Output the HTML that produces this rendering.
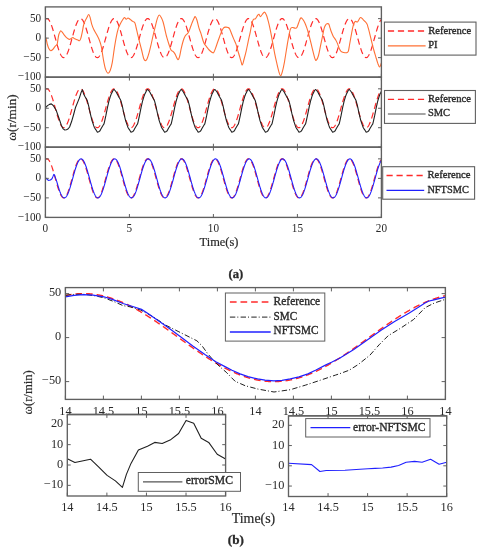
<!DOCTYPE html>
<html><head><meta charset="utf-8"><style>
html,body{margin:0;padding:0;background:#fff;}
body{width:478px;height:550px;overflow:hidden;}
svg{display:block;}
</style></head><body>
<svg width="478" height="550" viewBox="0 0 478 550" font-family="'Liberation Serif', 'DejaVu Serif', serif" fill="#2a2a2a">
<rect width="478" height="550" fill="#fff"/>
<clipPath id="c1"><rect x="45.4" y="6.9" width="336" height="70.25"/></clipPath>
<polyline clip-path="url(#c1)" points="45.4,19.38 45.74,19.08 46.07,18.85 46.41,18.69 46.74,18.62 47.08,18.62 47.42,18.69 47.75,18.85 48.09,19.08 48.42,19.38 48.76,19.76 49.1,20.21 49.43,20.74 49.77,21.33 50.1,21.98 50.44,22.7 50.78,23.48 51.11,24.32 51.45,25.22 51.78,26.16 52.12,27.15 52.46,28.19 52.79,29.26 53.13,30.37 53.46,31.51 53.8,32.68 54.14,33.87 54.47,35.07 54.81,36.29 55.14,37.51 55.48,38.74 55.82,39.96 56.15,41.17 56.49,42.38 56.82,43.57 57.16,44.73 57.5,45.87 57.83,46.98 58.17,48.06 58.5,49.09 58.84,50.08 59.18,51.03 59.51,51.92 59.85,52.76 60.18,53.54 60.52,54.26 60.86,54.92 61.19,55.51 61.53,56.03 61.86,56.48 62.2,56.86 62.54,57.17 62.87,57.4 63.21,57.55 63.54,57.63 63.88,57.63 64.22,57.55 64.55,57.4 64.89,57.17 65.22,56.86 65.56,56.48 65.9,56.03 66.23,55.51 66.57,54.92 66.9,54.26 67.24,53.54 67.58,52.76 67.91,51.92 68.25,51.03 68.58,50.08 68.92,49.09 69.26,48.06 69.59,46.98 69.93,45.87 70.26,44.73 70.6,43.57 70.94,42.38 71.27,41.17 71.61,39.96 71.94,38.74 72.28,37.51 72.62,36.29 72.95,35.07 73.29,33.87 73.62,32.68 73.96,31.51 74.3,30.37 74.63,29.26 74.97,28.19 75.3,27.15 75.64,26.16 75.98,25.22 76.31,24.32 76.65,23.48 76.98,22.7 77.32,21.98 77.66,21.33 77.99,20.74 78.33,20.21 78.66,19.76 79,19.38 79.34,19.08 79.67,18.85 80.01,18.69 80.34,18.62 80.68,18.62 81.02,18.69 81.35,18.85 81.69,19.08 82.02,19.38 82.36,19.76 82.7,20.21 83.03,20.74 83.37,21.33 83.7,21.98 84.04,22.7 84.38,23.48 84.71,24.32 85.05,25.22 85.38,26.16 85.72,27.15 86.06,28.19 86.39,29.26 86.73,30.37 87.06,31.51 87.4,32.68 87.74,33.87 88.07,35.07 88.41,36.29 88.74,37.51 89.08,38.74 89.42,39.96 89.75,41.17 90.09,42.38 90.42,43.57 90.76,44.73 91.1,45.87 91.43,46.98 91.77,48.06 92.1,49.09 92.44,50.08 92.78,51.03 93.11,51.92 93.45,52.76 93.78,53.54 94.12,54.26 94.46,54.92 94.79,55.51 95.13,56.03 95.46,56.48 95.8,56.86 96.14,57.17 96.47,57.4 96.81,57.55 97.14,57.63 97.48,57.63 97.82,57.55 98.15,57.4 98.49,57.17 98.82,56.86 99.16,56.48 99.5,56.03 99.83,55.51 100.17,54.92 100.5,54.26 100.84,53.54 101.18,52.76 101.51,51.92 101.85,51.03 102.18,50.08 102.52,49.09 102.86,48.06 103.19,46.98 103.53,45.87 103.86,44.73 104.2,43.57 104.54,42.38 104.87,41.17 105.21,39.96 105.54,38.74 105.88,37.51 106.22,36.29 106.55,35.07 106.89,33.87 107.22,32.68 107.56,31.51 107.9,30.37 108.23,29.26 108.57,28.19 108.9,27.15 109.24,26.16 109.58,25.22 109.91,24.32 110.25,23.48 110.58,22.7 110.92,21.98 111.26,21.33 111.59,20.74 111.93,20.21 112.26,19.76 112.6,19.38 112.94,19.08 113.27,18.85 113.61,18.69 113.94,18.62 114.28,18.62 114.62,18.69 114.95,18.85 115.29,19.08 115.62,19.38 115.96,19.76 116.3,20.21 116.63,20.74 116.97,21.33 117.3,21.98 117.64,22.7 117.98,23.48 118.31,24.32 118.65,25.22 118.98,26.16 119.32,27.15 119.66,28.19 119.99,29.26 120.33,30.37 120.66,31.51 121,32.68 121.34,33.87 121.67,35.07 122.01,36.29 122.34,37.51 122.68,38.74 123.02,39.96 123.35,41.17 123.69,42.38 124.02,43.57 124.36,44.73 124.7,45.87 125.03,46.98 125.37,48.06 125.7,49.09 126.04,50.08 126.38,51.03 126.71,51.92 127.05,52.76 127.38,53.54 127.72,54.26 128.06,54.92 128.39,55.51 128.73,56.03 129.06,56.48 129.4,56.86 129.74,57.17 130.07,57.4 130.41,57.55 130.74,57.63 131.08,57.63 131.42,57.55 131.75,57.4 132.09,57.17 132.42,56.86 132.76,56.48 133.1,56.03 133.43,55.51 133.77,54.92 134.1,54.26 134.44,53.54 134.78,52.76 135.11,51.92 135.45,51.03 135.78,50.08 136.12,49.09 136.46,48.06 136.79,46.98 137.13,45.87 137.46,44.73 137.8,43.57 138.14,42.38 138.47,41.17 138.81,39.96 139.14,38.74 139.48,37.51 139.82,36.29 140.15,35.07 140.49,33.87 140.82,32.68 141.16,31.51 141.5,30.37 141.83,29.26 142.17,28.19 142.5,27.15 142.84,26.16 143.18,25.22 143.51,24.32 143.85,23.48 144.18,22.7 144.52,21.98 144.86,21.33 145.19,20.74 145.53,20.21 145.86,19.76 146.2,19.38 146.54,19.08 146.87,18.85 147.21,18.69 147.54,18.62 147.88,18.62 148.22,18.69 148.55,18.85 148.89,19.08 149.22,19.38 149.56,19.76 149.9,20.21 150.23,20.74 150.57,21.33 150.9,21.98 151.24,22.7 151.58,23.48 151.91,24.32 152.25,25.22 152.58,26.16 152.92,27.15 153.26,28.19 153.59,29.26 153.93,30.37 154.26,31.51 154.6,32.68 154.94,33.87 155.27,35.07 155.61,36.29 155.94,37.51 156.28,38.74 156.62,39.96 156.95,41.17 157.29,42.38 157.62,43.57 157.96,44.73 158.3,45.87 158.63,46.98 158.97,48.06 159.3,49.09 159.64,50.08 159.98,51.03 160.31,51.92 160.65,52.76 160.98,53.54 161.32,54.26 161.66,54.92 161.99,55.51 162.33,56.03 162.66,56.48 163,56.86 163.34,57.17 163.67,57.4 164.01,57.55 164.34,57.63 164.68,57.63 165.02,57.55 165.35,57.4 165.69,57.17 166.02,56.86 166.36,56.48 166.7,56.03 167.03,55.51 167.37,54.92 167.7,54.26 168.04,53.54 168.38,52.76 168.71,51.92 169.05,51.03 169.38,50.08 169.72,49.09 170.06,48.06 170.39,46.98 170.73,45.87 171.06,44.73 171.4,43.57 171.74,42.38 172.07,41.17 172.41,39.96 172.74,38.74 173.08,37.51 173.42,36.29 173.75,35.07 174.09,33.87 174.42,32.68 174.76,31.51 175.1,30.37 175.43,29.26 175.77,28.19 176.1,27.15 176.44,26.16 176.78,25.22 177.11,24.32 177.45,23.48 177.78,22.7 178.12,21.98 178.46,21.33 178.79,20.74 179.13,20.21 179.46,19.76 179.8,19.38 180.14,19.08 180.47,18.85 180.81,18.69 181.14,18.62 181.48,18.62 181.82,18.69 182.15,18.85 182.49,19.08 182.82,19.38 183.16,19.76 183.5,20.21 183.83,20.74 184.17,21.33 184.5,21.98 184.84,22.7 185.18,23.48 185.51,24.32 185.85,25.22 186.18,26.16 186.52,27.15 186.86,28.19 187.19,29.26 187.53,30.37 187.86,31.51 188.2,32.68 188.54,33.87 188.87,35.07 189.21,36.29 189.54,37.51 189.88,38.74 190.22,39.96 190.55,41.17 190.89,42.38 191.22,43.57 191.56,44.73 191.9,45.87 192.23,46.98 192.57,48.06 192.9,49.09 193.24,50.08 193.58,51.03 193.91,51.92 194.25,52.76 194.58,53.54 194.92,54.26 195.26,54.92 195.59,55.51 195.93,56.03 196.26,56.48 196.6,56.86 196.94,57.17 197.27,57.4 197.61,57.55 197.94,57.63 198.28,57.63 198.62,57.55 198.95,57.4 199.29,57.17 199.62,56.86 199.96,56.48 200.3,56.03 200.63,55.51 200.97,54.92 201.3,54.26 201.64,53.54 201.98,52.76 202.31,51.92 202.65,51.03 202.98,50.08 203.32,49.09 203.66,48.06 203.99,46.98 204.33,45.87 204.66,44.73 205,43.57 205.34,42.38 205.67,41.17 206.01,39.96 206.34,38.74 206.68,37.51 207.02,36.29 207.35,35.07 207.69,33.87 208.02,32.68 208.36,31.51 208.7,30.37 209.03,29.26 209.37,28.19 209.7,27.15 210.04,26.16 210.38,25.22 210.71,24.32 211.05,23.48 211.38,22.7 211.72,21.98 212.06,21.33 212.39,20.74 212.73,20.21 213.06,19.76 213.4,19.38 213.74,19.08 214.07,18.85 214.41,18.69 214.74,18.62 215.08,18.62 215.42,18.69 215.75,18.85 216.09,19.08 216.42,19.38 216.76,19.76 217.1,20.21 217.43,20.74 217.77,21.33 218.1,21.98 218.44,22.7 218.78,23.48 219.11,24.32 219.45,25.22 219.78,26.16 220.12,27.15 220.46,28.19 220.79,29.26 221.13,30.37 221.46,31.51 221.8,32.68 222.14,33.87 222.47,35.07 222.81,36.29 223.14,37.51 223.48,38.74 223.82,39.96 224.15,41.17 224.49,42.38 224.82,43.57 225.16,44.73 225.5,45.87 225.83,46.98 226.17,48.06 226.5,49.09 226.84,50.08 227.18,51.03 227.51,51.92 227.85,52.76 228.18,53.54 228.52,54.26 228.86,54.92 229.19,55.51 229.53,56.03 229.86,56.48 230.2,56.86 230.54,57.17 230.87,57.4 231.21,57.55 231.54,57.63 231.88,57.63 232.22,57.55 232.55,57.4 232.89,57.17 233.22,56.86 233.56,56.48 233.9,56.03 234.23,55.51 234.57,54.92 234.9,54.26 235.24,53.54 235.58,52.76 235.91,51.92 236.25,51.03 236.58,50.08 236.92,49.09 237.26,48.06 237.59,46.98 237.93,45.87 238.26,44.73 238.6,43.57 238.94,42.38 239.27,41.17 239.61,39.96 239.94,38.74 240.28,37.51 240.62,36.29 240.95,35.07 241.29,33.87 241.62,32.68 241.96,31.51 242.3,30.37 242.63,29.26 242.97,28.19 243.3,27.15 243.64,26.16 243.98,25.22 244.31,24.32 244.65,23.48 244.98,22.7 245.32,21.98 245.66,21.33 245.99,20.74 246.33,20.21 246.66,19.76 247,19.38 247.34,19.08 247.67,18.85 248.01,18.69 248.34,18.62 248.68,18.62 249.02,18.69 249.35,18.85 249.69,19.08 250.02,19.38 250.36,19.76 250.7,20.21 251.03,20.74 251.37,21.33 251.7,21.98 252.04,22.7 252.38,23.48 252.71,24.32 253.05,25.22 253.38,26.16 253.72,27.15 254.06,28.19 254.39,29.26 254.73,30.37 255.06,31.51 255.4,32.68 255.74,33.87 256.07,35.07 256.41,36.29 256.74,37.51 257.08,38.74 257.42,39.96 257.75,41.17 258.09,42.38 258.42,43.57 258.76,44.73 259.1,45.87 259.43,46.98 259.77,48.06 260.1,49.09 260.44,50.08 260.78,51.03 261.11,51.92 261.45,52.76 261.78,53.54 262.12,54.26 262.46,54.92 262.79,55.51 263.13,56.03 263.46,56.48 263.8,56.86 264.14,57.17 264.47,57.4 264.81,57.55 265.14,57.63 265.48,57.63 265.82,57.55 266.15,57.4 266.49,57.17 266.82,56.86 267.16,56.48 267.5,56.03 267.83,55.51 268.17,54.92 268.5,54.26 268.84,53.54 269.18,52.76 269.51,51.92 269.85,51.03 270.18,50.08 270.52,49.09 270.86,48.06 271.19,46.98 271.53,45.87 271.86,44.73 272.2,43.57 272.54,42.38 272.87,41.17 273.21,39.96 273.54,38.74 273.88,37.51 274.22,36.29 274.55,35.07 274.89,33.87 275.22,32.68 275.56,31.51 275.9,30.37 276.23,29.26 276.57,28.19 276.9,27.15 277.24,26.16 277.58,25.22 277.91,24.32 278.25,23.48 278.58,22.7 278.92,21.98 279.26,21.33 279.59,20.74 279.93,20.21 280.26,19.76 280.6,19.38 280.94,19.08 281.27,18.85 281.61,18.69 281.94,18.62 282.28,18.62 282.62,18.69 282.95,18.85 283.29,19.08 283.62,19.38 283.96,19.76 284.3,20.21 284.63,20.74 284.97,21.33 285.3,21.98 285.64,22.7 285.98,23.48 286.31,24.32 286.65,25.22 286.98,26.16 287.32,27.15 287.66,28.19 287.99,29.26 288.33,30.37 288.66,31.51 289,32.68 289.34,33.87 289.67,35.07 290.01,36.29 290.34,37.51 290.68,38.74 291.02,39.96 291.35,41.17 291.69,42.38 292.02,43.57 292.36,44.73 292.7,45.87 293.03,46.98 293.37,48.06 293.7,49.09 294.04,50.08 294.38,51.03 294.71,51.92 295.05,52.76 295.38,53.54 295.72,54.26 296.06,54.92 296.39,55.51 296.73,56.03 297.06,56.48 297.4,56.86 297.74,57.17 298.07,57.4 298.41,57.55 298.74,57.63 299.08,57.63 299.42,57.55 299.75,57.4 300.09,57.17 300.42,56.86 300.76,56.48 301.1,56.03 301.43,55.51 301.77,54.92 302.1,54.26 302.44,53.54 302.78,52.76 303.11,51.92 303.45,51.03 303.78,50.08 304.12,49.09 304.46,48.06 304.79,46.98 305.13,45.87 305.46,44.73 305.8,43.57 306.14,42.38 306.47,41.17 306.81,39.96 307.14,38.74 307.48,37.51 307.82,36.29 308.15,35.07 308.49,33.87 308.82,32.68 309.16,31.51 309.5,30.37 309.83,29.26 310.17,28.19 310.5,27.15 310.84,26.16 311.18,25.22 311.51,24.32 311.85,23.48 312.18,22.7 312.52,21.98 312.86,21.33 313.19,20.74 313.53,20.21 313.86,19.76 314.2,19.38 314.54,19.08 314.87,18.85 315.21,18.69 315.54,18.62 315.88,18.62 316.22,18.69 316.55,18.85 316.89,19.08 317.22,19.38 317.56,19.76 317.9,20.21 318.23,20.74 318.57,21.33 318.9,21.98 319.24,22.7 319.58,23.48 319.91,24.32 320.25,25.22 320.58,26.16 320.92,27.15 321.26,28.19 321.59,29.26 321.93,30.37 322.26,31.51 322.6,32.68 322.94,33.87 323.27,35.07 323.61,36.29 323.94,37.51 324.28,38.74 324.62,39.96 324.95,41.17 325.29,42.38 325.62,43.57 325.96,44.73 326.3,45.87 326.63,46.98 326.97,48.06 327.3,49.09 327.64,50.08 327.98,51.03 328.31,51.92 328.65,52.76 328.98,53.54 329.32,54.26 329.66,54.92 329.99,55.51 330.33,56.03 330.66,56.48 331,56.86 331.34,57.17 331.67,57.4 332.01,57.55 332.34,57.63 332.68,57.63 333.02,57.55 333.35,57.4 333.69,57.17 334.02,56.86 334.36,56.48 334.7,56.03 335.03,55.51 335.37,54.92 335.7,54.26 336.04,53.54 336.38,52.76 336.71,51.92 337.05,51.03 337.38,50.08 337.72,49.09 338.06,48.06 338.39,46.98 338.73,45.87 339.06,44.73 339.4,43.57 339.74,42.38 340.07,41.17 340.41,39.96 340.74,38.74 341.08,37.51 341.42,36.29 341.75,35.07 342.09,33.87 342.42,32.68 342.76,31.51 343.1,30.37 343.43,29.26 343.77,28.19 344.1,27.15 344.44,26.16 344.78,25.22 345.11,24.32 345.45,23.48 345.78,22.7 346.12,21.98 346.46,21.33 346.79,20.74 347.13,20.21 347.46,19.76 347.8,19.38 348.14,19.08 348.47,18.85 348.81,18.69 349.14,18.62 349.48,18.62 349.82,18.69 350.15,18.85 350.49,19.08 350.82,19.38 351.16,19.76 351.5,20.21 351.83,20.74 352.17,21.33 352.5,21.98 352.84,22.7 353.18,23.48 353.51,24.32 353.85,25.22 354.18,26.16 354.52,27.15 354.86,28.19 355.19,29.26 355.53,30.37 355.86,31.51 356.2,32.68 356.54,33.87 356.87,35.07 357.21,36.29 357.54,37.51 357.88,38.74 358.22,39.96 358.55,41.17 358.89,42.38 359.22,43.57 359.56,44.73 359.9,45.87 360.23,46.98 360.57,48.06 360.9,49.09 361.24,50.08 361.58,51.03 361.91,51.92 362.25,52.76 362.58,53.54 362.92,54.26 363.26,54.92 363.59,55.51 363.93,56.03 364.26,56.48 364.6,56.86 364.94,57.17 365.27,57.4 365.61,57.55 365.94,57.63 366.28,57.63 366.62,57.55 366.95,57.4 367.29,57.17 367.62,56.86 367.96,56.48 368.3,56.03 368.63,55.51 368.97,54.92 369.3,54.26 369.64,53.54 369.98,52.76 370.31,51.92 370.65,51.03 370.98,50.08 371.32,49.09 371.66,48.06 371.99,46.98 372.33,45.87 372.66,44.73 373,43.57 373.34,42.38 373.67,41.17 374.01,39.96 374.34,38.74 374.68,37.51 375.02,36.29 375.35,35.07 375.69,33.87 376.02,32.68 376.36,31.51 376.7,30.37 377.03,29.26 377.37,28.19 377.7,27.15 378.04,26.16 378.38,25.22 378.71,24.32 379.05,23.48 379.38,22.7 379.72,21.98 380.06,21.33 380.39,20.74 380.73,20.21 381.06,19.76 381.4,19.38" stroke="#ff2a2a" stroke-width="1.2" fill="none" stroke-dasharray="6.2 3.8"/>
<path clip-path="url(#c1)" d="M45.6,37.2 C45.75,37.73 46.2,39.18 46.5,40.4 C46.8,41.62 47.02,43.13 47.4,44.5 C47.78,45.87 48.23,47.57 48.8,48.6 C49.37,49.63 50.12,50.58 50.8,50.7 C51.48,50.82 52.22,49.98 52.9,49.3 C53.58,48.62 54.22,47.4 54.9,46.6 C55.58,45.8 56.55,45.3 57,44.5 C57.45,43.7 57.32,43.38 57.6,41.8 C57.88,40.22 58.28,36.7 58.7,35 C59.12,33.3 59.72,32.28 60.1,31.6 C60.48,30.92 60.62,30.78 61,30.9 C61.38,31.02 61.87,31.62 62.4,32.3 C62.93,32.98 63.52,34.1 64.2,35 C64.88,35.9 65.67,36.97 66.5,37.7 C67.33,38.43 68.4,39.28 69.2,39.4 C70,39.52 70.68,38.72 71.3,38.4 C71.92,38.08 72.33,37.43 72.9,37.5 C73.47,37.57 73.95,38.42 74.7,38.8 C75.45,39.18 76.6,39.48 77.4,39.8 C78.2,40.12 78.93,40.93 79.5,40.7 C80.07,40.47 80.35,39.8 80.8,38.4 C81.25,37 81.75,34.45 82.2,32.3 C82.65,30.15 83.05,27.32 83.5,25.5 C83.95,23.68 84.32,22.77 84.9,21.4 C85.48,20.03 86.37,18.45 87,17.3 C87.63,16.15 88.18,14.5 88.7,14.5 C89.22,14.5 89.6,15.7 90.1,17.3 C90.6,18.9 91.08,22.07 91.7,24.1 C92.32,26.13 93,27.8 93.8,29.5 C94.6,31.2 95.6,32.58 96.5,34.3 C97.4,36.02 98.4,37.77 99.2,39.8 C100,41.83 100.6,43.22 101.3,46.5 C102,49.78 102.7,55.73 103.4,59.5 C104.1,63.27 104.75,66.82 105.5,69.1 C106.25,71.38 107.12,72.97 107.9,73.2 C108.68,73.43 109.47,72.32 110.2,70.5 C110.93,68.68 111.62,65.95 112.3,62.3 C112.98,58.65 113.62,52.92 114.3,48.6 C114.98,44.28 115.72,39.8 116.4,36.4 C117.08,33 117.72,30.37 118.4,28.2 C119.08,26.03 119.82,24.77 120.5,23.4 C121.18,22.03 121.83,20.98 122.5,20 C123.17,19.02 123.88,17.62 124.5,17.5 C125.12,17.38 125.62,19.22 126.2,19.3 C126.78,19.38 127.37,18 128,18 C128.63,18 129.22,18.73 130,19.3 C130.78,19.87 131.9,20.83 132.7,21.4 C133.5,21.97 134.23,21.68 134.8,22.7 C135.37,23.72 135.65,25.68 136.1,27.5 C136.55,29.32 136.93,31.22 137.5,33.6 C138.07,35.98 138.82,39.07 139.5,41.8 C140.18,44.53 140.92,47.27 141.6,50 C142.28,52.73 142.98,56.43 143.6,58.2 C144.22,59.97 144.73,60.48 145.3,60.6 C145.87,60.72 146.37,60.22 147,58.9 C147.63,57.58 148.42,55.1 149.1,52.7 C149.78,50.3 150.42,47.45 151.1,44.5 C151.78,41.55 152.52,37.95 153.2,35 C153.88,32.05 154.52,29.53 155.2,26.8 C155.88,24.07 156.62,20.57 157.3,18.6 C157.98,16.63 158.6,15.1 159.3,15 C160,14.9 160.87,16.83 161.5,18 C162.13,19.17 162.53,20.08 163.1,22 C163.67,23.92 164.27,26.88 164.9,29.5 C165.53,32.12 166.22,35.2 166.9,37.7 C167.58,40.2 168.32,42.45 169,44.5 C169.68,46.55 170.33,48.85 171,50 C171.67,51.15 172.32,50.72 173,51.4 C173.68,52.08 174.3,52.75 175.1,54.1 C175.9,55.45 177.07,59.05 177.8,59.5 C178.53,59.95 178.93,58.62 179.5,56.8 C180.07,54.98 180.57,51.32 181.2,48.6 C181.83,45.88 182.62,42.65 183.3,40.5 C183.98,38.35 184.52,36.95 185.3,35.7 C186.08,34.45 187.2,34.25 188,33 C188.8,31.75 189.42,29.92 190.1,28.2 C190.78,26.48 191.42,24.4 192.1,22.7 C192.78,21 193.67,19.02 194.2,18 C194.73,16.98 194.85,16.27 195.3,16.6 C195.75,16.93 196.28,18.07 196.9,20 C197.52,21.93 198.32,25.93 199,28.2 C199.68,30.47 200.33,31.55 201,33.6 C201.67,35.65 202.43,38.78 203,40.5 C203.57,42.22 203.82,42.88 204.4,43.9 C204.98,44.92 205.7,45.58 206.5,46.6 C207.3,47.62 208.3,49.07 209.2,50 C210.1,50.93 211.17,51.75 211.9,52.2 C212.63,52.65 213.02,53.3 213.6,52.7 C214.18,52.1 214.75,50.3 215.4,48.6 C216.05,46.9 216.82,44.43 217.5,42.5 C218.18,40.57 218.83,38.82 219.5,37 C220.17,35.18 220.82,33.12 221.5,31.6 C222.18,30.08 222.92,28.65 223.6,27.9 C224.28,27.15 224.85,27.17 225.6,27.1 C226.35,27.03 227.42,27.2 228.1,27.5 C228.78,27.8 229.08,27.77 229.7,28.9 C230.32,30.03 231.12,32.6 231.8,34.3 C232.48,36 233.12,37.5 233.8,39.1 C234.48,40.7 235.33,42.32 235.9,43.9 C236.47,45.48 236.63,46.67 237.2,48.6 C237.77,50.53 238.68,53.45 239.3,55.5 C239.92,57.55 240.4,59.32 240.9,60.9 C241.4,62.48 241.78,65.23 242.3,65 C242.82,64.77 243.37,61.77 244,59.5 C244.63,57.23 245.42,54.35 246.1,51.4 C246.78,48.45 247.42,44.98 248.1,41.8 C248.78,38.62 249.58,35.25 250.2,32.3 C250.82,29.35 251.3,26.2 251.8,24.1 C252.3,22 252.57,20.62 253.2,19.7 C253.83,18.78 254.85,19.35 255.6,18.6 C256.35,17.85 257.13,15.92 257.7,15.2 C258.27,14.48 258.55,14.07 259,14.3 C259.45,14.53 259.87,16.57 260.4,16.6 C260.93,16.63 261.52,15.25 262.2,14.5 C262.88,13.75 263.78,11.98 264.5,12.1 C265.22,12.22 265.87,13.65 266.5,15.2 C267.13,16.75 267.78,19.47 268.3,21.4 C268.82,23.33 269.15,24.77 269.6,26.8 C270.05,28.83 270.47,30.87 271,33.6 C271.53,36.33 272.17,39.78 272.8,43.2 C273.43,46.62 274.12,50.7 274.8,54.1 C275.48,57.5 276.22,60.65 276.9,63.6 C277.58,66.55 278.3,69.75 278.9,71.8 C279.5,73.85 279.93,75.9 280.5,75.9 C281.07,75.9 281.65,74.07 282.3,71.8 C282.95,69.53 283.72,65.93 284.4,62.3 C285.08,58.67 285.72,54.1 286.4,50 C287.08,45.9 287.82,41.22 288.5,37.7 C289.18,34.18 289.83,30.6 290.5,28.9 C291.17,27.2 291.7,27.62 292.5,27.5 C293.3,27.38 294.57,28.2 295.3,28.2 C296.03,28.2 296.33,28.42 296.9,27.5 C297.47,26.58 298.07,24.28 298.7,22.7 C299.33,21.12 300.02,18.57 300.7,18 C301.38,17.43 302.12,18.52 302.8,19.3 C303.48,20.08 304.12,21.22 304.8,22.7 C305.48,24.18 306.22,26.15 306.9,28.2 C307.58,30.25 308.22,32.5 308.9,35 C309.58,37.5 310.32,40.47 311,43.2 C311.68,45.93 312.33,48.78 313,51.4 C313.67,54.02 314.43,57.43 315,58.9 C315.57,60.37 315.82,60.77 316.4,60.2 C316.98,59.63 317.82,57.88 318.5,55.5 C319.18,53.12 319.83,49.08 320.5,45.9 C321.17,42.72 321.88,39.35 322.5,36.4 C323.12,33.45 323.68,30.1 324.2,28.2 C324.72,26.3 325.13,25.73 325.6,25 C326.07,24.27 326.47,23.95 327,23.8 C327.53,23.65 328.28,23.37 328.8,24.1 C329.32,24.83 329.65,26.83 330.1,28.2 C330.55,29.57 330.97,30.93 331.5,32.3 C332.03,33.67 332.62,35.15 333.3,36.4 C333.98,37.65 334.88,38.55 335.6,39.8 C336.32,41.05 336.98,42.43 337.6,43.9 C338.22,45.37 338.73,47.35 339.3,48.6 C339.87,49.85 340.25,50.75 341,51.4 C341.75,52.05 342.88,52.28 343.8,52.5 C344.72,52.72 345.75,52.88 346.5,52.7 C347.25,52.52 347.78,52.77 348.3,51.4 C348.82,50.03 349.1,47.23 349.6,44.5 C350.1,41.77 350.75,37.95 351.3,35 C351.85,32.05 352.4,28.85 352.9,26.8 C353.4,24.75 353.85,23.6 354.3,22.7 C354.75,21.8 355.08,21.52 355.6,21.4 C356.12,21.28 356.87,22.23 357.4,22 C357.93,21.77 358.28,20.75 358.8,20 C359.32,19.25 359.82,17.62 360.5,17.5 C361.18,17.38 362.17,18.65 362.9,19.3 C363.63,19.95 364.22,20.6 364.9,21.4 C365.58,22.2 366.43,22.97 367,24.1 C367.57,25.23 367.85,26.62 368.3,28.2 C368.75,29.78 369.13,31.33 369.7,33.6 C370.27,35.87 371.02,39.07 371.7,41.8 C372.38,44.53 373.12,47.5 373.8,50 C374.48,52.5 375.12,54.53 375.8,56.8 C376.48,59.07 377.27,61.9 377.9,63.6 C378.53,65.3 379.02,67.1 379.6,67 C380.18,66.9 381.1,63.67 381.4,63" stroke="#ff7035" stroke-width="1.1" fill="none" stroke-linejoin="round"/>
<path d="M45.4,77.15V73.75 M45.4,6.9V10.3 M129.4,77.15V73.75 M129.4,6.9V10.3 M213.4,77.15V73.75 M213.4,6.9V10.3 M297.4,77.15V73.75 M297.4,6.9V10.3 M381.4,77.15V73.75 M381.4,6.9V10.3 M45.4,77.15H48.8 M381.4,77.15H378 M45.4,57.64H48.8 M381.4,57.64H378 M45.4,38.12H48.8 M381.4,38.12H378 M45.4,18.61H48.8 M381.4,18.61H378 " stroke="#606060" stroke-width="1.0" fill="none"/>
<rect x="45.4" y="6.9" width="336" height="70.25" fill="none" stroke="#606060" stroke-width="1.35"/>
<text transform="translate(41.1,21.71) scale(1,1.1)" font-size="11.2" text-anchor="end" font-weight="normal">50</text>
<text transform="translate(41.1,41.22) scale(1,1.1)" font-size="11.2" text-anchor="end" font-weight="normal">0</text>
<text transform="translate(41.1,60.74) scale(1,1.1)" font-size="11.2" text-anchor="end" font-weight="normal">−50</text>
<text transform="translate(41.1,80.25) scale(1,1.1)" font-size="11.2" text-anchor="end" font-weight="normal">−100</text>
<clipPath id="c2"><rect x="45.4" y="77.15" width="336" height="70"/></clipPath>
<polyline clip-path="url(#c2)" points="45.4,89.59 45.74,89.28 46.07,89.06 46.41,88.9 46.74,88.83 47.08,88.83 47.42,88.9 47.75,89.06 48.09,89.28 48.42,89.59 48.76,89.97 49.1,90.42 49.43,90.94 49.77,91.52 50.1,92.18 50.44,92.9 50.78,93.68 51.11,94.51 51.45,95.4 51.78,96.34 52.12,97.33 52.46,98.36 52.79,99.43 53.13,100.54 53.46,101.67 53.8,102.84 54.14,104.02 54.47,105.22 54.81,106.43 55.14,107.65 55.48,108.87 55.82,110.09 56.15,111.3 56.49,112.5 56.82,113.69 57.16,114.85 57.5,115.98 57.83,117.09 58.17,118.16 58.5,119.19 58.84,120.18 59.18,121.12 59.51,122.01 59.85,122.85 60.18,123.63 60.52,124.34 60.86,125 61.19,125.59 61.53,126.11 61.86,126.56 62.2,126.93 62.54,127.24 62.87,127.47 63.21,127.62 63.54,127.7 63.88,127.7 64.22,127.62 64.55,127.47 64.89,127.24 65.22,126.93 65.56,126.56 65.9,126.11 66.23,125.59 66.57,125 66.9,124.34 67.24,123.63 67.58,122.85 67.91,122.01 68.25,121.12 68.58,120.18 68.92,119.19 69.26,118.16 69.59,117.09 69.93,115.98 70.26,114.85 70.6,113.69 70.94,112.5 71.27,111.3 71.61,110.09 71.94,108.87 72.28,107.65 72.62,106.43 72.95,105.22 73.29,104.02 73.62,102.84 73.96,101.67 74.3,100.54 74.63,99.43 74.97,98.36 75.3,97.33 75.64,96.34 75.98,95.4 76.31,94.51 76.65,93.68 76.98,92.9 77.32,92.18 77.66,91.52 77.99,90.94 78.33,90.42 78.66,89.97 79,89.59 79.34,89.28 79.67,89.06 80.01,88.9 80.34,88.83 80.68,88.83 81.02,88.9 81.35,89.06 81.69,89.28 82.02,89.59 82.36,89.97 82.7,90.42 83.03,90.94 83.37,91.52 83.7,92.18 84.04,92.9 84.38,93.68 84.71,94.51 85.05,95.4 85.38,96.34 85.72,97.33 86.06,98.36 86.39,99.43 86.73,100.54 87.06,101.67 87.4,102.84 87.74,104.02 88.07,105.22 88.41,106.43 88.74,107.65 89.08,108.87 89.42,110.09 89.75,111.3 90.09,112.5 90.42,113.69 90.76,114.85 91.1,115.98 91.43,117.09 91.77,118.16 92.1,119.19 92.44,120.18 92.78,121.12 93.11,122.01 93.45,122.85 93.78,123.63 94.12,124.34 94.46,125 94.79,125.59 95.13,126.11 95.46,126.56 95.8,126.93 96.14,127.24 96.47,127.47 96.81,127.62 97.14,127.7 97.48,127.7 97.82,127.62 98.15,127.47 98.49,127.24 98.82,126.93 99.16,126.56 99.5,126.11 99.83,125.59 100.17,125 100.5,124.34 100.84,123.63 101.18,122.85 101.51,122.01 101.85,121.12 102.18,120.18 102.52,119.19 102.86,118.16 103.19,117.09 103.53,115.98 103.86,114.85 104.2,113.69 104.54,112.5 104.87,111.3 105.21,110.09 105.54,108.87 105.88,107.65 106.22,106.43 106.55,105.22 106.89,104.02 107.22,102.84 107.56,101.67 107.9,100.54 108.23,99.43 108.57,98.36 108.9,97.33 109.24,96.34 109.58,95.4 109.91,94.51 110.25,93.68 110.58,92.9 110.92,92.18 111.26,91.52 111.59,90.94 111.93,90.42 112.26,89.97 112.6,89.59 112.94,89.28 113.27,89.06 113.61,88.9 113.94,88.83 114.28,88.83 114.62,88.9 114.95,89.06 115.29,89.28 115.62,89.59 115.96,89.97 116.3,90.42 116.63,90.94 116.97,91.52 117.3,92.18 117.64,92.9 117.98,93.68 118.31,94.51 118.65,95.4 118.98,96.34 119.32,97.33 119.66,98.36 119.99,99.43 120.33,100.54 120.66,101.67 121,102.84 121.34,104.02 121.67,105.22 122.01,106.43 122.34,107.65 122.68,108.87 123.02,110.09 123.35,111.3 123.69,112.5 124.02,113.69 124.36,114.85 124.7,115.98 125.03,117.09 125.37,118.16 125.7,119.19 126.04,120.18 126.38,121.12 126.71,122.01 127.05,122.85 127.38,123.63 127.72,124.34 128.06,125 128.39,125.59 128.73,126.11 129.06,126.56 129.4,126.93 129.74,127.24 130.07,127.47 130.41,127.62 130.74,127.7 131.08,127.7 131.42,127.62 131.75,127.47 132.09,127.24 132.42,126.93 132.76,126.56 133.1,126.11 133.43,125.59 133.77,125 134.1,124.34 134.44,123.63 134.78,122.85 135.11,122.01 135.45,121.12 135.78,120.18 136.12,119.19 136.46,118.16 136.79,117.09 137.13,115.98 137.46,114.85 137.8,113.69 138.14,112.5 138.47,111.3 138.81,110.09 139.14,108.87 139.48,107.65 139.82,106.43 140.15,105.22 140.49,104.02 140.82,102.84 141.16,101.67 141.5,100.54 141.83,99.43 142.17,98.36 142.5,97.33 142.84,96.34 143.18,95.4 143.51,94.51 143.85,93.68 144.18,92.9 144.52,92.18 144.86,91.52 145.19,90.94 145.53,90.42 145.86,89.97 146.2,89.59 146.54,89.28 146.87,89.06 147.21,88.9 147.54,88.83 147.88,88.83 148.22,88.9 148.55,89.06 148.89,89.28 149.22,89.59 149.56,89.97 149.9,90.42 150.23,90.94 150.57,91.52 150.9,92.18 151.24,92.9 151.58,93.68 151.91,94.51 152.25,95.4 152.58,96.34 152.92,97.33 153.26,98.36 153.59,99.43 153.93,100.54 154.26,101.67 154.6,102.84 154.94,104.02 155.27,105.22 155.61,106.43 155.94,107.65 156.28,108.87 156.62,110.09 156.95,111.3 157.29,112.5 157.62,113.69 157.96,114.85 158.3,115.98 158.63,117.09 158.97,118.16 159.3,119.19 159.64,120.18 159.98,121.12 160.31,122.01 160.65,122.85 160.98,123.63 161.32,124.34 161.66,125 161.99,125.59 162.33,126.11 162.66,126.56 163,126.93 163.34,127.24 163.67,127.47 164.01,127.62 164.34,127.7 164.68,127.7 165.02,127.62 165.35,127.47 165.69,127.24 166.02,126.93 166.36,126.56 166.7,126.11 167.03,125.59 167.37,125 167.7,124.34 168.04,123.63 168.38,122.85 168.71,122.01 169.05,121.12 169.38,120.18 169.72,119.19 170.06,118.16 170.39,117.09 170.73,115.98 171.06,114.85 171.4,113.69 171.74,112.5 172.07,111.3 172.41,110.09 172.74,108.87 173.08,107.65 173.42,106.43 173.75,105.22 174.09,104.02 174.42,102.84 174.76,101.67 175.1,100.54 175.43,99.43 175.77,98.36 176.1,97.33 176.44,96.34 176.78,95.4 177.11,94.51 177.45,93.68 177.78,92.9 178.12,92.18 178.46,91.52 178.79,90.94 179.13,90.42 179.46,89.97 179.8,89.59 180.14,89.28 180.47,89.06 180.81,88.9 181.14,88.83 181.48,88.83 181.82,88.9 182.15,89.06 182.49,89.28 182.82,89.59 183.16,89.97 183.5,90.42 183.83,90.94 184.17,91.52 184.5,92.18 184.84,92.9 185.18,93.68 185.51,94.51 185.85,95.4 186.18,96.34 186.52,97.33 186.86,98.36 187.19,99.43 187.53,100.54 187.86,101.67 188.2,102.84 188.54,104.02 188.87,105.22 189.21,106.43 189.54,107.65 189.88,108.87 190.22,110.09 190.55,111.3 190.89,112.5 191.22,113.69 191.56,114.85 191.9,115.98 192.23,117.09 192.57,118.16 192.9,119.19 193.24,120.18 193.58,121.12 193.91,122.01 194.25,122.85 194.58,123.63 194.92,124.34 195.26,125 195.59,125.59 195.93,126.11 196.26,126.56 196.6,126.93 196.94,127.24 197.27,127.47 197.61,127.62 197.94,127.7 198.28,127.7 198.62,127.62 198.95,127.47 199.29,127.24 199.62,126.93 199.96,126.56 200.3,126.11 200.63,125.59 200.97,125 201.3,124.34 201.64,123.63 201.98,122.85 202.31,122.01 202.65,121.12 202.98,120.18 203.32,119.19 203.66,118.16 203.99,117.09 204.33,115.98 204.66,114.85 205,113.69 205.34,112.5 205.67,111.3 206.01,110.09 206.34,108.87 206.68,107.65 207.02,106.43 207.35,105.22 207.69,104.02 208.02,102.84 208.36,101.67 208.7,100.54 209.03,99.43 209.37,98.36 209.7,97.33 210.04,96.34 210.38,95.4 210.71,94.51 211.05,93.68 211.38,92.9 211.72,92.18 212.06,91.52 212.39,90.94 212.73,90.42 213.06,89.97 213.4,89.59 213.74,89.28 214.07,89.06 214.41,88.9 214.74,88.83 215.08,88.83 215.42,88.9 215.75,89.06 216.09,89.28 216.42,89.59 216.76,89.97 217.1,90.42 217.43,90.94 217.77,91.52 218.1,92.18 218.44,92.9 218.78,93.68 219.11,94.51 219.45,95.4 219.78,96.34 220.12,97.33 220.46,98.36 220.79,99.43 221.13,100.54 221.46,101.67 221.8,102.84 222.14,104.02 222.47,105.22 222.81,106.43 223.14,107.65 223.48,108.87 223.82,110.09 224.15,111.3 224.49,112.5 224.82,113.69 225.16,114.85 225.5,115.98 225.83,117.09 226.17,118.16 226.5,119.19 226.84,120.18 227.18,121.12 227.51,122.01 227.85,122.85 228.18,123.63 228.52,124.34 228.86,125 229.19,125.59 229.53,126.11 229.86,126.56 230.2,126.93 230.54,127.24 230.87,127.47 231.21,127.62 231.54,127.7 231.88,127.7 232.22,127.62 232.55,127.47 232.89,127.24 233.22,126.93 233.56,126.56 233.9,126.11 234.23,125.59 234.57,125 234.9,124.34 235.24,123.63 235.58,122.85 235.91,122.01 236.25,121.12 236.58,120.18 236.92,119.19 237.26,118.16 237.59,117.09 237.93,115.98 238.26,114.85 238.6,113.69 238.94,112.5 239.27,111.3 239.61,110.09 239.94,108.87 240.28,107.65 240.62,106.43 240.95,105.22 241.29,104.02 241.62,102.84 241.96,101.67 242.3,100.54 242.63,99.43 242.97,98.36 243.3,97.33 243.64,96.34 243.98,95.4 244.31,94.51 244.65,93.68 244.98,92.9 245.32,92.18 245.66,91.52 245.99,90.94 246.33,90.42 246.66,89.97 247,89.59 247.34,89.28 247.67,89.06 248.01,88.9 248.34,88.83 248.68,88.83 249.02,88.9 249.35,89.06 249.69,89.28 250.02,89.59 250.36,89.97 250.7,90.42 251.03,90.94 251.37,91.52 251.7,92.18 252.04,92.9 252.38,93.68 252.71,94.51 253.05,95.4 253.38,96.34 253.72,97.33 254.06,98.36 254.39,99.43 254.73,100.54 255.06,101.67 255.4,102.84 255.74,104.02 256.07,105.22 256.41,106.43 256.74,107.65 257.08,108.87 257.42,110.09 257.75,111.3 258.09,112.5 258.42,113.69 258.76,114.85 259.1,115.98 259.43,117.09 259.77,118.16 260.1,119.19 260.44,120.18 260.78,121.12 261.11,122.01 261.45,122.85 261.78,123.63 262.12,124.34 262.46,125 262.79,125.59 263.13,126.11 263.46,126.56 263.8,126.93 264.14,127.24 264.47,127.47 264.81,127.62 265.14,127.7 265.48,127.7 265.82,127.62 266.15,127.47 266.49,127.24 266.82,126.93 267.16,126.56 267.5,126.11 267.83,125.59 268.17,125 268.5,124.34 268.84,123.63 269.18,122.85 269.51,122.01 269.85,121.12 270.18,120.18 270.52,119.19 270.86,118.16 271.19,117.09 271.53,115.98 271.86,114.85 272.2,113.69 272.54,112.5 272.87,111.3 273.21,110.09 273.54,108.87 273.88,107.65 274.22,106.43 274.55,105.22 274.89,104.02 275.22,102.84 275.56,101.67 275.9,100.54 276.23,99.43 276.57,98.36 276.9,97.33 277.24,96.34 277.58,95.4 277.91,94.51 278.25,93.68 278.58,92.9 278.92,92.18 279.26,91.52 279.59,90.94 279.93,90.42 280.26,89.97 280.6,89.59 280.94,89.28 281.27,89.06 281.61,88.9 281.94,88.83 282.28,88.83 282.62,88.9 282.95,89.06 283.29,89.28 283.62,89.59 283.96,89.97 284.3,90.42 284.63,90.94 284.97,91.52 285.3,92.18 285.64,92.9 285.98,93.68 286.31,94.51 286.65,95.4 286.98,96.34 287.32,97.33 287.66,98.36 287.99,99.43 288.33,100.54 288.66,101.67 289,102.84 289.34,104.02 289.67,105.22 290.01,106.43 290.34,107.65 290.68,108.87 291.02,110.09 291.35,111.3 291.69,112.5 292.02,113.69 292.36,114.85 292.7,115.98 293.03,117.09 293.37,118.16 293.7,119.19 294.04,120.18 294.38,121.12 294.71,122.01 295.05,122.85 295.38,123.63 295.72,124.34 296.06,125 296.39,125.59 296.73,126.11 297.06,126.56 297.4,126.93 297.74,127.24 298.07,127.47 298.41,127.62 298.74,127.7 299.08,127.7 299.42,127.62 299.75,127.47 300.09,127.24 300.42,126.93 300.76,126.56 301.1,126.11 301.43,125.59 301.77,125 302.1,124.34 302.44,123.63 302.78,122.85 303.11,122.01 303.45,121.12 303.78,120.18 304.12,119.19 304.46,118.16 304.79,117.09 305.13,115.98 305.46,114.85 305.8,113.69 306.14,112.5 306.47,111.3 306.81,110.09 307.14,108.87 307.48,107.65 307.82,106.43 308.15,105.22 308.49,104.02 308.82,102.84 309.16,101.67 309.5,100.54 309.83,99.43 310.17,98.36 310.5,97.33 310.84,96.34 311.18,95.4 311.51,94.51 311.85,93.68 312.18,92.9 312.52,92.18 312.86,91.52 313.19,90.94 313.53,90.42 313.86,89.97 314.2,89.59 314.54,89.28 314.87,89.06 315.21,88.9 315.54,88.83 315.88,88.83 316.22,88.9 316.55,89.06 316.89,89.28 317.22,89.59 317.56,89.97 317.9,90.42 318.23,90.94 318.57,91.52 318.9,92.18 319.24,92.9 319.58,93.68 319.91,94.51 320.25,95.4 320.58,96.34 320.92,97.33 321.26,98.36 321.59,99.43 321.93,100.54 322.26,101.67 322.6,102.84 322.94,104.02 323.27,105.22 323.61,106.43 323.94,107.65 324.28,108.87 324.62,110.09 324.95,111.3 325.29,112.5 325.62,113.69 325.96,114.85 326.3,115.98 326.63,117.09 326.97,118.16 327.3,119.19 327.64,120.18 327.98,121.12 328.31,122.01 328.65,122.85 328.98,123.63 329.32,124.34 329.66,125 329.99,125.59 330.33,126.11 330.66,126.56 331,126.93 331.34,127.24 331.67,127.47 332.01,127.62 332.34,127.7 332.68,127.7 333.02,127.62 333.35,127.47 333.69,127.24 334.02,126.93 334.36,126.56 334.7,126.11 335.03,125.59 335.37,125 335.7,124.34 336.04,123.63 336.38,122.85 336.71,122.01 337.05,121.12 337.38,120.18 337.72,119.19 338.06,118.16 338.39,117.09 338.73,115.98 339.06,114.85 339.4,113.69 339.74,112.5 340.07,111.3 340.41,110.09 340.74,108.87 341.08,107.65 341.42,106.43 341.75,105.22 342.09,104.02 342.42,102.84 342.76,101.67 343.1,100.54 343.43,99.43 343.77,98.36 344.1,97.33 344.44,96.34 344.78,95.4 345.11,94.51 345.45,93.68 345.78,92.9 346.12,92.18 346.46,91.52 346.79,90.94 347.13,90.42 347.46,89.97 347.8,89.59 348.14,89.28 348.47,89.06 348.81,88.9 349.14,88.83 349.48,88.83 349.82,88.9 350.15,89.06 350.49,89.28 350.82,89.59 351.16,89.97 351.5,90.42 351.83,90.94 352.17,91.52 352.5,92.18 352.84,92.9 353.18,93.68 353.51,94.51 353.85,95.4 354.18,96.34 354.52,97.33 354.86,98.36 355.19,99.43 355.53,100.54 355.86,101.67 356.2,102.84 356.54,104.02 356.87,105.22 357.21,106.43 357.54,107.65 357.88,108.87 358.22,110.09 358.55,111.3 358.89,112.5 359.22,113.69 359.56,114.85 359.9,115.98 360.23,117.09 360.57,118.16 360.9,119.19 361.24,120.18 361.58,121.12 361.91,122.01 362.25,122.85 362.58,123.63 362.92,124.34 363.26,125 363.59,125.59 363.93,126.11 364.26,126.56 364.6,126.93 364.94,127.24 365.27,127.47 365.61,127.62 365.94,127.7 366.28,127.7 366.62,127.62 366.95,127.47 367.29,127.24 367.62,126.93 367.96,126.56 368.3,126.11 368.63,125.59 368.97,125 369.3,124.34 369.64,123.63 369.98,122.85 370.31,122.01 370.65,121.12 370.98,120.18 371.32,119.19 371.66,118.16 371.99,117.09 372.33,115.98 372.66,114.85 373,113.69 373.34,112.5 373.67,111.3 374.01,110.09 374.34,108.87 374.68,107.65 375.02,106.43 375.35,105.22 375.69,104.02 376.02,102.84 376.36,101.67 376.7,100.54 377.03,99.43 377.37,98.36 377.7,97.33 378.04,96.34 378.38,95.4 378.71,94.51 379.05,93.68 379.38,92.9 379.72,92.18 380.06,91.52 380.39,90.94 380.73,90.42 381.06,89.97 381.4,89.59" stroke="#ff2a2a" stroke-width="1.2" fill="none" stroke-dasharray="6.2 3.8"/>
<polyline clip-path="url(#c2)" points="45.6,107.6 47.5,105.6 49.5,104.4 51.3,103.9 53,105.2 54.5,107.4 56.3,110.6 58.8,117.7 61.3,125.2 63.2,128.9 64.8,130 66.4,129.8 68,129 69.6,127 71.5,121.8 73.5,115 75.6,107.2 77.5,102.6 79.5,97.6 81.2,92.2 82.4,89.7 83.6,93.91 84.2,95.1 84.8,96.29 85.4,97.31 86,98.3 86.6,99.28 87.2,100.48 87.8,102.72 88.4,104.96 89,107.48 89.6,110.31 90.2,113.13 90.8,115.66 91.4,118.12 92,120.58 92.6,122.35 93.2,124.11 93.8,125.88 94.4,127.49 95,128.43 95.6,129.36 96.2,130.3 96.8,131.23 97.4,132.17 98,132.04 98.6,131.74 99.2,131.44 99.8,130.96 100.4,129.9 101,128.83 101.6,127.76 102.2,126.75 102.8,125.79 103.4,124.83 104,123.87 104.6,121.32 105.2,118.68 105.8,115.98 106.4,112.92 107,109.87 107.6,106.96 108.2,104.34 108.8,101.72 109.4,99.63 110,97.67 110.6,95.7 111.2,94.09 111.8,92.9 112.4,91.71 113,90.52 113.6,89.76 114.2,89.51 114.8,90.26 115.4,91.01 116,91.75 116.6,92.72 117.2,93.91 117.8,95.1 118.4,96.29 119,97.31 119.6,98.3 120.2,99.28 120.8,100.48 121.4,102.72 122,104.96 122.6,107.48 123.2,110.31 123.8,113.13 124.4,115.66 125,118.12 125.6,120.58 126.2,122.35 126.8,124.11 127.4,125.88 128,127.49 128.6,128.43 129.2,129.36 129.8,130.3 130.4,131.23 131,132.17 131.6,132.04 132.2,131.74 132.8,131.44 133.4,130.96 134,129.9 134.6,128.83 135.2,127.76 135.8,126.75 136.4,125.79 137,124.83 137.6,123.87 138.2,121.32 138.8,118.68 139.4,115.98 140,112.92 140.6,109.87 141.2,106.96 141.8,104.34 142.4,101.72 143,99.63 143.6,97.67 144.2,95.7 144.8,94.09 145.4,92.9 146,91.71 146.6,90.52 147.2,89.76 147.8,89.51 148.4,90.26 149,91.01 149.6,91.75 150.2,92.72 150.8,93.91 151.4,95.1 152,96.29 152.6,97.31 153.2,98.3 153.8,99.28 154.4,100.48 155,102.72 155.6,104.96 156.2,107.48 156.8,110.31 157.4,113.13 158,115.66 158.6,118.12 159.2,120.58 159.8,122.35 160.4,124.11 161,125.88 161.6,127.49 162.2,128.43 162.8,129.36 163.4,130.3 164,131.23 164.6,132.17 165.2,132.04 165.8,131.74 166.4,131.44 167,130.96 167.6,129.9 168.2,128.83 168.8,127.76 169.4,126.75 170,125.79 170.6,124.83 171.2,123.87 171.8,121.32 172.4,118.68 173,115.98 173.6,112.92 174.2,109.87 174.8,106.96 175.4,104.34 176,101.72 176.6,99.63 177.2,97.67 177.8,95.7 178.4,94.09 179,92.9 179.6,91.71 180.2,90.52 180.8,89.76 181.4,89.51 182,90.26 182.6,91.01 183.2,91.75 183.8,92.72 184.4,93.91 185,95.1 185.6,96.29 186.2,97.31 186.8,98.3 187.4,99.28 188,100.48 188.6,102.72 189.2,104.96 189.8,107.48 190.4,110.31 191,113.13 191.6,115.66 192.2,118.12 192.8,120.58 193.4,122.35 194,124.11 194.6,125.88 195.2,127.49 195.8,128.43 196.4,129.36 197,130.3 197.6,131.23 198.2,132.17 198.8,132.04 199.4,131.74 200,131.44 200.6,130.96 201.2,129.9 201.8,128.83 202.4,127.76 203,126.75 203.6,125.79 204.2,124.83 204.8,123.87 205.4,121.32 206,118.68 206.6,115.98 207.2,112.92 207.8,109.87 208.4,106.96 209,104.34 209.6,101.72 210.2,99.63 210.8,97.67 211.4,95.7 212,94.09 212.6,92.9 213.2,91.71 213.8,90.52 214.4,89.76 215,89.51 215.6,90.26 216.2,91.01 216.8,91.75 217.4,92.72 218,93.91 218.6,95.1 219.2,96.29 219.8,97.31 220.4,98.3 221,99.28 221.6,100.48 222.2,102.72 222.8,104.96 223.4,107.48 224,110.31 224.6,113.13 225.2,115.66 225.8,118.12 226.4,120.58 227,122.35 227.6,124.11 228.2,125.88 228.8,127.49 229.4,128.43 230,129.36 230.6,130.3 231.2,131.23 231.8,132.17 232.4,132.04 233,131.74 233.6,131.44 234.2,130.96 234.8,129.9 235.4,128.83 236,127.76 236.6,126.75 237.2,125.79 237.8,124.83 238.4,123.87 239,121.32 239.6,118.68 240.2,115.98 240.8,112.92 241.4,109.87 242,106.96 242.6,104.34 243.2,101.72 243.8,99.63 244.4,97.67 245,95.7 245.6,94.09 246.2,92.9 246.8,91.71 247.4,90.52 248,89.76 248.6,89.51 249.2,90.26 249.8,91.01 250.4,91.75 251,92.72 251.6,93.91 252.2,95.1 252.8,96.29 253.4,97.31 254,98.3 254.6,99.28 255.2,100.48 255.8,102.72 256.4,104.96 257,107.48 257.6,110.31 258.2,113.13 258.8,115.66 259.4,118.12 260,120.58 260.6,122.35 261.2,124.11 261.8,125.88 262.4,127.49 263,128.43 263.6,129.36 264.2,130.3 264.8,131.23 265.4,132.17 266,132.04 266.6,131.74 267.2,131.44 267.8,130.96 268.4,129.9 269,128.83 269.6,127.76 270.2,126.75 270.8,125.79 271.4,124.83 272,123.87 272.6,121.32 273.2,118.68 273.8,115.98 274.4,112.92 275,109.87 275.6,106.96 276.2,104.34 276.8,101.72 277.4,99.63 278,97.67 278.6,95.7 279.2,94.09 279.8,92.9 280.4,91.71 281,90.52 281.6,89.76 282.2,89.51 282.8,90.26 283.4,91.01 284,91.75 284.6,92.72 285.2,93.91 285.8,95.1 286.4,96.29 287,97.31 287.6,98.3 288.2,99.28 288.8,100.48 289.4,102.72 290,104.96 290.6,107.48 291.2,110.31 291.8,113.13 292.4,115.66 293,118.12 293.6,120.58 294.2,122.35 294.8,124.11 295.4,125.88 296,127.49 296.6,128.43 297.2,129.36 297.8,130.3 298.4,131.23 299,132.17 299.6,132.04 300.2,131.74 300.8,131.44 301.4,130.96 302,129.9 302.6,128.83 303.2,127.76 303.8,126.75 304.4,125.79 305,124.83 305.6,123.87 306.2,121.32 306.8,118.68 307.4,115.98 308,112.92 308.6,109.87 309.2,106.96 309.8,104.34 310.4,101.72 311,99.63 311.6,97.67 312.2,95.7 312.8,94.09 313.4,92.9 314,91.71 314.6,90.52 315.2,89.76 315.8,89.51 316.4,90.26 317,91.01 317.6,91.75 318.2,92.72 318.8,93.91 319.4,95.1 320,96.29 320.6,97.31 321.2,98.3 321.8,99.28 322.4,100.48 323,102.72 323.6,104.96 324.2,107.48 324.8,110.31 325.4,113.13 326,115.66 326.6,118.12 327.2,120.58 327.8,122.35 328.4,124.11 329,125.88 329.6,127.49 330.2,128.43 330.8,129.36 331.4,130.3 332,131.23 332.6,132.17 333.2,132.04 333.8,131.74 334.4,131.44 335,130.96 335.6,129.9 336.2,128.83 336.8,127.76 337.4,126.75 338,125.79 338.6,124.83 339.2,123.87 339.8,121.32 340.4,118.68 341,115.98 341.6,112.92 342.2,109.87 342.8,106.96 343.4,104.34 344,101.72 344.6,99.63 345.2,97.67 345.8,95.7 346.4,94.09 347,92.9 347.6,91.71 348.2,90.52 348.8,89.76 349.4,89.51 350,90.26 350.6,91.01 351.2,91.75 351.8,92.72 352.4,93.91 353,95.1 353.6,96.29 354.2,97.31 354.8,98.3 355.4,99.28 356,100.48 356.6,102.72 357.2,104.96 357.8,107.48 358.4,110.31 359,113.13 359.6,115.66 360.2,118.12 360.8,120.58 361.4,122.35 362,124.11 362.6,125.88 363.2,127.49 363.8,128.43 364.4,129.36 365,130.3 365.6,131.23 366.2,132.17 366.8,132.04 367.4,131.74 368,131.44 368.6,130.96 369.2,129.9 369.8,128.83 370.4,127.76 371,126.75 371.6,125.79 372.2,124.83 372.8,123.87 373.4,121.32 374,118.68 374.6,115.98 375.2,112.92 375.8,109.87 376.4,106.96 377,104.34 377.6,101.72 378.2,99.63 378.8,97.67 379.4,95.7 380,94.09 380.6,92.9 381.2,91.71 381.8,90.52" stroke="#202020" stroke-width="1.1" fill="none" stroke-linejoin="round"/>
<path d="M45.4,147.15V143.75 M45.4,77.15V80.55 M129.4,147.15V143.75 M129.4,77.15V80.55 M213.4,147.15V143.75 M213.4,77.15V80.55 M297.4,147.15V143.75 M297.4,77.15V80.55 M381.4,147.15V143.75 M381.4,77.15V80.55 M45.4,147.15H48.8 M381.4,147.15H378 M45.4,127.71H48.8 M381.4,127.71H378 M45.4,108.26H48.8 M381.4,108.26H378 M45.4,88.82H48.8 M381.4,88.82H378 " stroke="#606060" stroke-width="1.0" fill="none"/>
<rect x="45.4" y="77.15" width="336" height="70" fill="none" stroke="#606060" stroke-width="1.35"/>
<text transform="translate(41.1,91.92) scale(1,1.1)" font-size="11.2" text-anchor="end" font-weight="normal">50</text>
<text transform="translate(41.1,111.36) scale(1,1.1)" font-size="11.2" text-anchor="end" font-weight="normal">0</text>
<text transform="translate(41.1,130.81) scale(1,1.1)" font-size="11.2" text-anchor="end" font-weight="normal">−50</text>
<text transform="translate(41.1,150.25) scale(1,1.1)" font-size="11.2" text-anchor="end" font-weight="normal">−100</text>
<clipPath id="c3"><rect x="45.4" y="147.15" width="336" height="70.25"/></clipPath>
<polyline clip-path="url(#c3)" points="45.4,159.63 45.74,159.33 46.07,159.1 46.41,158.94 46.74,158.87 47.08,158.87 47.42,158.94 47.75,159.1 48.09,159.33 48.42,159.63 48.76,160.01 49.1,160.46 49.43,160.99 49.77,161.58 50.1,162.23 50.44,162.95 50.78,163.73 51.11,164.57 51.45,165.47 51.78,166.41 52.12,167.4 52.46,168.44 52.79,169.51 53.13,170.62 53.46,171.76 53.8,172.93 54.14,174.12 54.47,175.32 54.81,176.54 55.14,177.76 55.48,178.99 55.82,180.21 56.15,181.42 56.49,182.63 56.82,183.82 57.16,184.98 57.5,186.12 57.83,187.23 58.17,188.31 58.5,189.34 58.84,190.33 59.18,191.28 59.51,192.17 59.85,193.01 60.18,193.79 60.52,194.51 60.86,195.17 61.19,195.76 61.53,196.28 61.86,196.73 62.2,197.11 62.54,197.42 62.87,197.65 63.21,197.8 63.54,197.88 63.88,197.88 64.22,197.8 64.55,197.65 64.89,197.42 65.22,197.11 65.56,196.73 65.9,196.28 66.23,195.76 66.57,195.17 66.9,194.51 67.24,193.79 67.58,193.01 67.91,192.17 68.25,191.28 68.58,190.33 68.92,189.34 69.26,188.31 69.59,187.23 69.93,186.12 70.26,184.98 70.6,183.82 70.94,182.63 71.27,181.42 71.61,180.21 71.94,178.99 72.28,177.76 72.62,176.54 72.95,175.32 73.29,174.12 73.62,172.93 73.96,171.76 74.3,170.62 74.63,169.51 74.97,168.44 75.3,167.4 75.64,166.41 75.98,165.47 76.31,164.57 76.65,163.73 76.98,162.95 77.32,162.23 77.66,161.58 77.99,160.99 78.33,160.46 78.66,160.01 79,159.63 79.34,159.33 79.67,159.1 80.01,158.94 80.34,158.87 80.68,158.87 81.02,158.94 81.35,159.1 81.69,159.33 82.02,159.63 82.36,160.01 82.7,160.46 83.03,160.99 83.37,161.58 83.7,162.23 84.04,162.95 84.38,163.73 84.71,164.57 85.05,165.47 85.38,166.41 85.72,167.4 86.06,168.44 86.39,169.51 86.73,170.62 87.06,171.76 87.4,172.93 87.74,174.12 88.07,175.32 88.41,176.54 88.74,177.76 89.08,178.99 89.42,180.21 89.75,181.42 90.09,182.63 90.42,183.82 90.76,184.98 91.1,186.12 91.43,187.23 91.77,188.31 92.1,189.34 92.44,190.33 92.78,191.28 93.11,192.17 93.45,193.01 93.78,193.79 94.12,194.51 94.46,195.17 94.79,195.76 95.13,196.28 95.46,196.73 95.8,197.11 96.14,197.42 96.47,197.65 96.81,197.8 97.14,197.88 97.48,197.88 97.82,197.8 98.15,197.65 98.49,197.42 98.82,197.11 99.16,196.73 99.5,196.28 99.83,195.76 100.17,195.17 100.5,194.51 100.84,193.79 101.18,193.01 101.51,192.17 101.85,191.28 102.18,190.33 102.52,189.34 102.86,188.31 103.19,187.23 103.53,186.12 103.86,184.98 104.2,183.82 104.54,182.63 104.87,181.42 105.21,180.21 105.54,178.99 105.88,177.76 106.22,176.54 106.55,175.32 106.89,174.12 107.22,172.93 107.56,171.76 107.9,170.62 108.23,169.51 108.57,168.44 108.9,167.4 109.24,166.41 109.58,165.47 109.91,164.57 110.25,163.73 110.58,162.95 110.92,162.23 111.26,161.58 111.59,160.99 111.93,160.46 112.26,160.01 112.6,159.63 112.94,159.33 113.27,159.1 113.61,158.94 113.94,158.87 114.28,158.87 114.62,158.94 114.95,159.1 115.29,159.33 115.62,159.63 115.96,160.01 116.3,160.46 116.63,160.99 116.97,161.58 117.3,162.23 117.64,162.95 117.98,163.73 118.31,164.57 118.65,165.47 118.98,166.41 119.32,167.4 119.66,168.44 119.99,169.51 120.33,170.62 120.66,171.76 121,172.93 121.34,174.12 121.67,175.32 122.01,176.54 122.34,177.76 122.68,178.99 123.02,180.21 123.35,181.42 123.69,182.63 124.02,183.82 124.36,184.98 124.7,186.12 125.03,187.23 125.37,188.31 125.7,189.34 126.04,190.33 126.38,191.28 126.71,192.17 127.05,193.01 127.38,193.79 127.72,194.51 128.06,195.17 128.39,195.76 128.73,196.28 129.06,196.73 129.4,197.11 129.74,197.42 130.07,197.65 130.41,197.8 130.74,197.88 131.08,197.88 131.42,197.8 131.75,197.65 132.09,197.42 132.42,197.11 132.76,196.73 133.1,196.28 133.43,195.76 133.77,195.17 134.1,194.51 134.44,193.79 134.78,193.01 135.11,192.17 135.45,191.28 135.78,190.33 136.12,189.34 136.46,188.31 136.79,187.23 137.13,186.12 137.46,184.98 137.8,183.82 138.14,182.63 138.47,181.42 138.81,180.21 139.14,178.99 139.48,177.76 139.82,176.54 140.15,175.32 140.49,174.12 140.82,172.93 141.16,171.76 141.5,170.62 141.83,169.51 142.17,168.44 142.5,167.4 142.84,166.41 143.18,165.47 143.51,164.57 143.85,163.73 144.18,162.95 144.52,162.23 144.86,161.58 145.19,160.99 145.53,160.46 145.86,160.01 146.2,159.63 146.54,159.33 146.87,159.1 147.21,158.94 147.54,158.87 147.88,158.87 148.22,158.94 148.55,159.1 148.89,159.33 149.22,159.63 149.56,160.01 149.9,160.46 150.23,160.99 150.57,161.58 150.9,162.23 151.24,162.95 151.58,163.73 151.91,164.57 152.25,165.47 152.58,166.41 152.92,167.4 153.26,168.44 153.59,169.51 153.93,170.62 154.26,171.76 154.6,172.93 154.94,174.12 155.27,175.32 155.61,176.54 155.94,177.76 156.28,178.99 156.62,180.21 156.95,181.42 157.29,182.63 157.62,183.82 157.96,184.98 158.3,186.12 158.63,187.23 158.97,188.31 159.3,189.34 159.64,190.33 159.98,191.28 160.31,192.17 160.65,193.01 160.98,193.79 161.32,194.51 161.66,195.17 161.99,195.76 162.33,196.28 162.66,196.73 163,197.11 163.34,197.42 163.67,197.65 164.01,197.8 164.34,197.88 164.68,197.88 165.02,197.8 165.35,197.65 165.69,197.42 166.02,197.11 166.36,196.73 166.7,196.28 167.03,195.76 167.37,195.17 167.7,194.51 168.04,193.79 168.38,193.01 168.71,192.17 169.05,191.28 169.38,190.33 169.72,189.34 170.06,188.31 170.39,187.23 170.73,186.12 171.06,184.98 171.4,183.82 171.74,182.63 172.07,181.42 172.41,180.21 172.74,178.99 173.08,177.76 173.42,176.54 173.75,175.32 174.09,174.12 174.42,172.93 174.76,171.76 175.1,170.62 175.43,169.51 175.77,168.44 176.1,167.4 176.44,166.41 176.78,165.47 177.11,164.57 177.45,163.73 177.78,162.95 178.12,162.23 178.46,161.58 178.79,160.99 179.13,160.46 179.46,160.01 179.8,159.63 180.14,159.33 180.47,159.1 180.81,158.94 181.14,158.87 181.48,158.87 181.82,158.94 182.15,159.1 182.49,159.33 182.82,159.63 183.16,160.01 183.5,160.46 183.83,160.99 184.17,161.58 184.5,162.23 184.84,162.95 185.18,163.73 185.51,164.57 185.85,165.47 186.18,166.41 186.52,167.4 186.86,168.44 187.19,169.51 187.53,170.62 187.86,171.76 188.2,172.93 188.54,174.12 188.87,175.32 189.21,176.54 189.54,177.76 189.88,178.99 190.22,180.21 190.55,181.42 190.89,182.63 191.22,183.82 191.56,184.98 191.9,186.12 192.23,187.23 192.57,188.31 192.9,189.34 193.24,190.33 193.58,191.28 193.91,192.17 194.25,193.01 194.58,193.79 194.92,194.51 195.26,195.17 195.59,195.76 195.93,196.28 196.26,196.73 196.6,197.11 196.94,197.42 197.27,197.65 197.61,197.8 197.94,197.88 198.28,197.88 198.62,197.8 198.95,197.65 199.29,197.42 199.62,197.11 199.96,196.73 200.3,196.28 200.63,195.76 200.97,195.17 201.3,194.51 201.64,193.79 201.98,193.01 202.31,192.17 202.65,191.28 202.98,190.33 203.32,189.34 203.66,188.31 203.99,187.23 204.33,186.12 204.66,184.98 205,183.82 205.34,182.63 205.67,181.42 206.01,180.21 206.34,178.99 206.68,177.76 207.02,176.54 207.35,175.32 207.69,174.12 208.02,172.93 208.36,171.76 208.7,170.62 209.03,169.51 209.37,168.44 209.7,167.4 210.04,166.41 210.38,165.47 210.71,164.57 211.05,163.73 211.38,162.95 211.72,162.23 212.06,161.58 212.39,160.99 212.73,160.46 213.06,160.01 213.4,159.63 213.74,159.33 214.07,159.1 214.41,158.94 214.74,158.87 215.08,158.87 215.42,158.94 215.75,159.1 216.09,159.33 216.42,159.63 216.76,160.01 217.1,160.46 217.43,160.99 217.77,161.58 218.1,162.23 218.44,162.95 218.78,163.73 219.11,164.57 219.45,165.47 219.78,166.41 220.12,167.4 220.46,168.44 220.79,169.51 221.13,170.62 221.46,171.76 221.8,172.93 222.14,174.12 222.47,175.32 222.81,176.54 223.14,177.76 223.48,178.99 223.82,180.21 224.15,181.42 224.49,182.63 224.82,183.82 225.16,184.98 225.5,186.12 225.83,187.23 226.17,188.31 226.5,189.34 226.84,190.33 227.18,191.28 227.51,192.17 227.85,193.01 228.18,193.79 228.52,194.51 228.86,195.17 229.19,195.76 229.53,196.28 229.86,196.73 230.2,197.11 230.54,197.42 230.87,197.65 231.21,197.8 231.54,197.88 231.88,197.88 232.22,197.8 232.55,197.65 232.89,197.42 233.22,197.11 233.56,196.73 233.9,196.28 234.23,195.76 234.57,195.17 234.9,194.51 235.24,193.79 235.58,193.01 235.91,192.17 236.25,191.28 236.58,190.33 236.92,189.34 237.26,188.31 237.59,187.23 237.93,186.12 238.26,184.98 238.6,183.82 238.94,182.63 239.27,181.42 239.61,180.21 239.94,178.99 240.28,177.76 240.62,176.54 240.95,175.32 241.29,174.12 241.62,172.93 241.96,171.76 242.3,170.62 242.63,169.51 242.97,168.44 243.3,167.4 243.64,166.41 243.98,165.47 244.31,164.57 244.65,163.73 244.98,162.95 245.32,162.23 245.66,161.58 245.99,160.99 246.33,160.46 246.66,160.01 247,159.63 247.34,159.33 247.67,159.1 248.01,158.94 248.34,158.87 248.68,158.87 249.02,158.94 249.35,159.1 249.69,159.33 250.02,159.63 250.36,160.01 250.7,160.46 251.03,160.99 251.37,161.58 251.7,162.23 252.04,162.95 252.38,163.73 252.71,164.57 253.05,165.47 253.38,166.41 253.72,167.4 254.06,168.44 254.39,169.51 254.73,170.62 255.06,171.76 255.4,172.93 255.74,174.12 256.07,175.32 256.41,176.54 256.74,177.76 257.08,178.99 257.42,180.21 257.75,181.42 258.09,182.63 258.42,183.82 258.76,184.98 259.1,186.12 259.43,187.23 259.77,188.31 260.1,189.34 260.44,190.33 260.78,191.28 261.11,192.17 261.45,193.01 261.78,193.79 262.12,194.51 262.46,195.17 262.79,195.76 263.13,196.28 263.46,196.73 263.8,197.11 264.14,197.42 264.47,197.65 264.81,197.8 265.14,197.88 265.48,197.88 265.82,197.8 266.15,197.65 266.49,197.42 266.82,197.11 267.16,196.73 267.5,196.28 267.83,195.76 268.17,195.17 268.5,194.51 268.84,193.79 269.18,193.01 269.51,192.17 269.85,191.28 270.18,190.33 270.52,189.34 270.86,188.31 271.19,187.23 271.53,186.12 271.86,184.98 272.2,183.82 272.54,182.63 272.87,181.42 273.21,180.21 273.54,178.99 273.88,177.76 274.22,176.54 274.55,175.32 274.89,174.12 275.22,172.93 275.56,171.76 275.9,170.62 276.23,169.51 276.57,168.44 276.9,167.4 277.24,166.41 277.58,165.47 277.91,164.57 278.25,163.73 278.58,162.95 278.92,162.23 279.26,161.58 279.59,160.99 279.93,160.46 280.26,160.01 280.6,159.63 280.94,159.33 281.27,159.1 281.61,158.94 281.94,158.87 282.28,158.87 282.62,158.94 282.95,159.1 283.29,159.33 283.62,159.63 283.96,160.01 284.3,160.46 284.63,160.99 284.97,161.58 285.3,162.23 285.64,162.95 285.98,163.73 286.31,164.57 286.65,165.47 286.98,166.41 287.32,167.4 287.66,168.44 287.99,169.51 288.33,170.62 288.66,171.76 289,172.93 289.34,174.12 289.67,175.32 290.01,176.54 290.34,177.76 290.68,178.99 291.02,180.21 291.35,181.42 291.69,182.63 292.02,183.82 292.36,184.98 292.7,186.12 293.03,187.23 293.37,188.31 293.7,189.34 294.04,190.33 294.38,191.28 294.71,192.17 295.05,193.01 295.38,193.79 295.72,194.51 296.06,195.17 296.39,195.76 296.73,196.28 297.06,196.73 297.4,197.11 297.74,197.42 298.07,197.65 298.41,197.8 298.74,197.88 299.08,197.88 299.42,197.8 299.75,197.65 300.09,197.42 300.42,197.11 300.76,196.73 301.1,196.28 301.43,195.76 301.77,195.17 302.1,194.51 302.44,193.79 302.78,193.01 303.11,192.17 303.45,191.28 303.78,190.33 304.12,189.34 304.46,188.31 304.79,187.23 305.13,186.12 305.46,184.98 305.8,183.82 306.14,182.63 306.47,181.42 306.81,180.21 307.14,178.99 307.48,177.76 307.82,176.54 308.15,175.32 308.49,174.12 308.82,172.93 309.16,171.76 309.5,170.62 309.83,169.51 310.17,168.44 310.5,167.4 310.84,166.41 311.18,165.47 311.51,164.57 311.85,163.73 312.18,162.95 312.52,162.23 312.86,161.58 313.19,160.99 313.53,160.46 313.86,160.01 314.2,159.63 314.54,159.33 314.87,159.1 315.21,158.94 315.54,158.87 315.88,158.87 316.22,158.94 316.55,159.1 316.89,159.33 317.22,159.63 317.56,160.01 317.9,160.46 318.23,160.99 318.57,161.58 318.9,162.23 319.24,162.95 319.58,163.73 319.91,164.57 320.25,165.47 320.58,166.41 320.92,167.4 321.26,168.44 321.59,169.51 321.93,170.62 322.26,171.76 322.6,172.93 322.94,174.12 323.27,175.32 323.61,176.54 323.94,177.76 324.28,178.99 324.62,180.21 324.95,181.42 325.29,182.63 325.62,183.82 325.96,184.98 326.3,186.12 326.63,187.23 326.97,188.31 327.3,189.34 327.64,190.33 327.98,191.28 328.31,192.17 328.65,193.01 328.98,193.79 329.32,194.51 329.66,195.17 329.99,195.76 330.33,196.28 330.66,196.73 331,197.11 331.34,197.42 331.67,197.65 332.01,197.8 332.34,197.88 332.68,197.88 333.02,197.8 333.35,197.65 333.69,197.42 334.02,197.11 334.36,196.73 334.7,196.28 335.03,195.76 335.37,195.17 335.7,194.51 336.04,193.79 336.38,193.01 336.71,192.17 337.05,191.28 337.38,190.33 337.72,189.34 338.06,188.31 338.39,187.23 338.73,186.12 339.06,184.98 339.4,183.82 339.74,182.63 340.07,181.42 340.41,180.21 340.74,178.99 341.08,177.76 341.42,176.54 341.75,175.32 342.09,174.12 342.42,172.93 342.76,171.76 343.1,170.62 343.43,169.51 343.77,168.44 344.1,167.4 344.44,166.41 344.78,165.47 345.11,164.57 345.45,163.73 345.78,162.95 346.12,162.23 346.46,161.58 346.79,160.99 347.13,160.46 347.46,160.01 347.8,159.63 348.14,159.33 348.47,159.1 348.81,158.94 349.14,158.87 349.48,158.87 349.82,158.94 350.15,159.1 350.49,159.33 350.82,159.63 351.16,160.01 351.5,160.46 351.83,160.99 352.17,161.58 352.5,162.23 352.84,162.95 353.18,163.73 353.51,164.57 353.85,165.47 354.18,166.41 354.52,167.4 354.86,168.44 355.19,169.51 355.53,170.62 355.86,171.76 356.2,172.93 356.54,174.12 356.87,175.32 357.21,176.54 357.54,177.76 357.88,178.99 358.22,180.21 358.55,181.42 358.89,182.63 359.22,183.82 359.56,184.98 359.9,186.12 360.23,187.23 360.57,188.31 360.9,189.34 361.24,190.33 361.58,191.28 361.91,192.17 362.25,193.01 362.58,193.79 362.92,194.51 363.26,195.17 363.59,195.76 363.93,196.28 364.26,196.73 364.6,197.11 364.94,197.42 365.27,197.65 365.61,197.8 365.94,197.88 366.28,197.88 366.62,197.8 366.95,197.65 367.29,197.42 367.62,197.11 367.96,196.73 368.3,196.28 368.63,195.76 368.97,195.17 369.3,194.51 369.64,193.79 369.98,193.01 370.31,192.17 370.65,191.28 370.98,190.33 371.32,189.34 371.66,188.31 371.99,187.23 372.33,186.12 372.66,184.98 373,183.82 373.34,182.63 373.67,181.42 374.01,180.21 374.34,178.99 374.68,177.76 375.02,176.54 375.35,175.32 375.69,174.12 376.02,172.93 376.36,171.76 376.7,170.62 377.03,169.51 377.37,168.44 377.7,167.4 378.04,166.41 378.38,165.47 378.71,164.57 379.05,163.73 379.38,162.95 379.72,162.23 380.06,161.58 380.39,160.99 380.73,160.46 381.06,160.01 381.4,159.63" stroke="#ff2a2a" stroke-width="1.2" fill="none" stroke-dasharray="6.2 3.8"/>
<polyline clip-path="url(#c3)" points="45.6,178.2 46.3,178.4 47.2,179.5 48.5,180.4 50.4,180 52,178.7 53,176.4 53.8,174.4 54.5,175 55.4,177.6 56.8,181.6 57.14,182.8 57.47,183.98 57.81,185.15 58.14,186.28 58.48,187.39 58.82,188.46 59.15,189.49 59.49,190.47 59.82,191.41 60.16,192.29 60.5,193.13 60.83,193.9 61.17,194.61 61.5,195.26 61.84,195.84 62.18,196.35 62.51,196.79 62.85,197.16 63.18,197.45 63.52,197.67 63.86,197.82 64.19,197.88 64.53,197.87 64.86,197.78 65.2,197.62 65.54,197.38 65.87,197.06 66.21,196.67 66.54,196.21 66.88,195.68 67.22,195.08 67.55,194.41 67.89,193.68 68.22,192.89 68.56,192.05 68.9,191.15 69.23,190.19 69.57,189.2 69.9,188.15 70.24,187.07 70.58,185.96 70.91,184.82 71.25,183.65 71.58,182.46 71.92,181.25 72.26,180.03 72.59,178.81 72.93,177.58 73.26,176.36 73.6,175.15 73.94,173.94 74.27,172.76 74.61,171.6 74.94,170.46 75.28,169.36 75.62,168.29 75.95,167.26 76.29,166.27 76.62,165.34 76.96,164.45 77.3,163.62 77.63,162.85 77.97,162.13 78.3,161.49 78.64,160.91 78.98,160.39 79.31,159.95 79.65,159.59 79.98,159.29 80.32,159.07 80.66,158.93 80.99,158.86 81.33,158.87 81.66,158.96 82,159.13 82.34,159.37 82.67,159.68 83.01,160.07 83.34,160.53 83.68,161.07 84.02,161.67 84.35,162.33 84.69,163.06 85.02,163.85 85.36,164.7 85.7,165.6 86.03,166.55 86.37,167.55 86.7,168.59 87.04,169.67 87.38,170.78 87.71,171.93 88.05,173.1 88.38,174.29 88.72,175.49 89.06,176.71 89.39,177.93 89.73,179.16 90.06,180.38 90.4,181.6 90.74,182.8 91.07,183.98 91.41,185.15 91.74,186.28 92.08,187.39 92.42,188.46 92.75,189.49 93.09,190.47 93.42,191.41 93.76,192.29 94.1,193.13 94.43,193.9 94.77,194.61 95.1,195.26 95.44,195.84 95.78,196.35 96.11,196.79 96.45,197.16 96.78,197.45 97.12,197.67 97.46,197.82 97.79,197.88 98.13,197.87 98.46,197.78 98.8,197.62 99.14,197.38 99.47,197.06 99.81,196.67 100.14,196.21 100.48,195.68 100.82,195.08 101.15,194.41 101.49,193.68 101.82,192.89 102.16,192.05 102.5,191.15 102.83,190.19 103.17,189.2 103.5,188.15 103.84,187.07 104.18,185.96 104.51,184.82 104.85,183.65 105.18,182.46 105.52,181.25 105.86,180.03 106.19,178.81 106.53,177.58 106.86,176.36 107.2,175.15 107.54,173.94 107.87,172.76 108.21,171.6 108.54,170.46 108.88,169.36 109.22,168.29 109.55,167.26 109.89,166.27 110.22,165.34 110.56,164.45 110.9,163.62 111.23,162.85 111.57,162.13 111.9,161.49 112.24,160.91 112.58,160.39 112.91,159.95 113.25,159.59 113.58,159.29 113.92,159.07 114.26,158.93 114.59,158.86 114.93,158.87 115.26,158.96 115.6,159.13 115.94,159.37 116.27,159.68 116.61,160.07 116.94,160.53 117.28,161.07 117.62,161.67 117.95,162.33 118.29,163.06 118.62,163.85 118.96,164.7 119.3,165.6 119.63,166.55 119.97,167.55 120.3,168.59 120.64,169.67 120.98,170.78 121.31,171.93 121.65,173.1 121.98,174.29 122.32,175.49 122.66,176.71 122.99,177.93 123.33,179.16 123.66,180.38 124,181.6 124.34,182.8 124.67,183.98 125.01,185.15 125.34,186.28 125.68,187.39 126.02,188.46 126.35,189.49 126.69,190.47 127.02,191.41 127.36,192.29 127.7,193.13 128.03,193.9 128.37,194.61 128.7,195.26 129.04,195.84 129.38,196.35 129.71,196.79 130.05,197.16 130.38,197.45 130.72,197.67 131.06,197.82 131.39,197.88 131.73,197.87 132.06,197.78 132.4,197.62 132.74,197.38 133.07,197.06 133.41,196.67 133.74,196.21 134.08,195.68 134.42,195.08 134.75,194.41 135.09,193.68 135.42,192.89 135.76,192.05 136.1,191.15 136.43,190.19 136.77,189.2 137.1,188.15 137.44,187.07 137.78,185.96 138.11,184.82 138.45,183.65 138.78,182.46 139.12,181.25 139.46,180.03 139.79,178.81 140.13,177.58 140.46,176.36 140.8,175.15 141.14,173.94 141.47,172.76 141.81,171.6 142.14,170.46 142.48,169.36 142.82,168.29 143.15,167.26 143.49,166.27 143.82,165.34 144.16,164.45 144.5,163.62 144.83,162.85 145.17,162.13 145.5,161.49 145.84,160.91 146.18,160.39 146.51,159.95 146.85,159.59 147.18,159.29 147.52,159.07 147.86,158.93 148.19,158.86 148.53,158.87 148.86,158.96 149.2,159.13 149.54,159.37 149.87,159.68 150.21,160.07 150.54,160.53 150.88,161.07 151.22,161.67 151.55,162.33 151.89,163.06 152.22,163.85 152.56,164.7 152.9,165.6 153.23,166.55 153.57,167.55 153.9,168.59 154.24,169.67 154.58,170.78 154.91,171.93 155.25,173.1 155.58,174.29 155.92,175.49 156.26,176.71 156.59,177.93 156.93,179.16 157.26,180.38 157.6,181.6 157.94,182.8 158.27,183.98 158.61,185.15 158.94,186.28 159.28,187.39 159.62,188.46 159.95,189.49 160.29,190.47 160.62,191.41 160.96,192.29 161.3,193.13 161.63,193.9 161.97,194.61 162.3,195.26 162.64,195.84 162.98,196.35 163.31,196.79 163.65,197.16 163.98,197.45 164.32,197.67 164.66,197.82 164.99,197.88 165.33,197.87 165.66,197.78 166,197.62 166.34,197.38 166.67,197.06 167.01,196.67 167.34,196.21 167.68,195.68 168.02,195.08 168.35,194.41 168.69,193.68 169.02,192.89 169.36,192.05 169.7,191.15 170.03,190.19 170.37,189.2 170.7,188.15 171.04,187.07 171.38,185.96 171.71,184.82 172.05,183.65 172.38,182.46 172.72,181.25 173.06,180.03 173.39,178.81 173.73,177.58 174.06,176.36 174.4,175.15 174.74,173.94 175.07,172.76 175.41,171.6 175.74,170.46 176.08,169.36 176.42,168.29 176.75,167.26 177.09,166.27 177.42,165.34 177.76,164.45 178.1,163.62 178.43,162.85 178.77,162.13 179.1,161.49 179.44,160.91 179.78,160.39 180.11,159.95 180.45,159.59 180.78,159.29 181.12,159.07 181.46,158.93 181.79,158.86 182.13,158.87 182.46,158.96 182.8,159.13 183.14,159.37 183.47,159.68 183.81,160.07 184.14,160.53 184.48,161.07 184.82,161.67 185.15,162.33 185.49,163.06 185.82,163.85 186.16,164.7 186.5,165.6 186.83,166.55 187.17,167.55 187.5,168.59 187.84,169.67 188.18,170.78 188.51,171.93 188.85,173.1 189.18,174.29 189.52,175.49 189.86,176.71 190.19,177.93 190.53,179.16 190.86,180.38 191.2,181.6 191.54,182.8 191.87,183.98 192.21,185.15 192.54,186.28 192.88,187.39 193.22,188.46 193.55,189.49 193.89,190.47 194.22,191.41 194.56,192.29 194.9,193.13 195.23,193.9 195.57,194.61 195.9,195.26 196.24,195.84 196.58,196.35 196.91,196.79 197.25,197.16 197.58,197.45 197.92,197.67 198.26,197.82 198.59,197.88 198.93,197.87 199.26,197.78 199.6,197.62 199.94,197.38 200.27,197.06 200.61,196.67 200.94,196.21 201.28,195.68 201.62,195.08 201.95,194.41 202.29,193.68 202.62,192.89 202.96,192.05 203.3,191.15 203.63,190.19 203.97,189.2 204.3,188.15 204.64,187.07 204.98,185.96 205.31,184.82 205.65,183.65 205.98,182.46 206.32,181.25 206.66,180.03 206.99,178.81 207.33,177.58 207.66,176.36 208,175.15 208.34,173.94 208.67,172.76 209.01,171.6 209.34,170.46 209.68,169.36 210.02,168.29 210.35,167.26 210.69,166.27 211.02,165.34 211.36,164.45 211.7,163.62 212.03,162.85 212.37,162.13 212.7,161.49 213.04,160.91 213.38,160.39 213.71,159.95 214.05,159.59 214.38,159.29 214.72,159.07 215.06,158.93 215.39,158.86 215.73,158.87 216.06,158.96 216.4,159.13 216.74,159.37 217.07,159.68 217.41,160.07 217.74,160.53 218.08,161.07 218.42,161.67 218.75,162.33 219.09,163.06 219.42,163.85 219.76,164.7 220.1,165.6 220.43,166.55 220.77,167.55 221.1,168.59 221.44,169.67 221.78,170.78 222.11,171.93 222.45,173.1 222.78,174.29 223.12,175.49 223.46,176.71 223.79,177.93 224.13,179.16 224.46,180.38 224.8,181.6 225.14,182.8 225.47,183.98 225.81,185.15 226.14,186.28 226.48,187.39 226.82,188.46 227.15,189.49 227.49,190.47 227.82,191.41 228.16,192.29 228.5,193.13 228.83,193.9 229.17,194.61 229.5,195.26 229.84,195.84 230.18,196.35 230.51,196.79 230.85,197.16 231.18,197.45 231.52,197.67 231.86,197.82 232.19,197.88 232.53,197.87 232.86,197.78 233.2,197.62 233.54,197.38 233.87,197.06 234.21,196.67 234.54,196.21 234.88,195.68 235.22,195.08 235.55,194.41 235.89,193.68 236.22,192.89 236.56,192.05 236.9,191.15 237.23,190.19 237.57,189.2 237.9,188.15 238.24,187.07 238.58,185.96 238.91,184.82 239.25,183.65 239.58,182.46 239.92,181.25 240.26,180.03 240.59,178.81 240.93,177.58 241.26,176.36 241.6,175.15 241.94,173.94 242.27,172.76 242.61,171.6 242.94,170.46 243.28,169.36 243.62,168.29 243.95,167.26 244.29,166.27 244.62,165.34 244.96,164.45 245.3,163.62 245.63,162.85 245.97,162.13 246.3,161.49 246.64,160.91 246.98,160.39 247.31,159.95 247.65,159.59 247.98,159.29 248.32,159.07 248.66,158.93 248.99,158.86 249.33,158.87 249.66,158.96 250,159.13 250.34,159.37 250.67,159.68 251.01,160.07 251.34,160.53 251.68,161.07 252.02,161.67 252.35,162.33 252.69,163.06 253.02,163.85 253.36,164.7 253.7,165.6 254.03,166.55 254.37,167.55 254.7,168.59 255.04,169.67 255.38,170.78 255.71,171.93 256.05,173.1 256.38,174.29 256.72,175.49 257.06,176.71 257.39,177.93 257.73,179.16 258.06,180.38 258.4,181.6 258.74,182.8 259.07,183.98 259.41,185.15 259.74,186.28 260.08,187.39 260.42,188.46 260.75,189.49 261.09,190.47 261.42,191.41 261.76,192.29 262.1,193.13 262.43,193.9 262.77,194.61 263.1,195.26 263.44,195.84 263.78,196.35 264.11,196.79 264.45,197.16 264.78,197.45 265.12,197.67 265.46,197.82 265.79,197.88 266.13,197.87 266.46,197.78 266.8,197.62 267.14,197.38 267.47,197.06 267.81,196.67 268.14,196.21 268.48,195.68 268.82,195.08 269.15,194.41 269.49,193.68 269.82,192.89 270.16,192.05 270.5,191.15 270.83,190.19 271.17,189.2 271.5,188.15 271.84,187.07 272.18,185.96 272.51,184.82 272.85,183.65 273.18,182.46 273.52,181.25 273.86,180.03 274.19,178.81 274.53,177.58 274.86,176.36 275.2,175.15 275.54,173.94 275.87,172.76 276.21,171.6 276.54,170.46 276.88,169.36 277.22,168.29 277.55,167.26 277.89,166.27 278.22,165.34 278.56,164.45 278.9,163.62 279.23,162.85 279.57,162.13 279.9,161.49 280.24,160.91 280.58,160.39 280.91,159.95 281.25,159.59 281.58,159.29 281.92,159.07 282.26,158.93 282.59,158.86 282.93,158.87 283.26,158.96 283.6,159.13 283.94,159.37 284.27,159.68 284.61,160.07 284.94,160.53 285.28,161.07 285.62,161.67 285.95,162.33 286.29,163.06 286.62,163.85 286.96,164.7 287.3,165.6 287.63,166.55 287.97,167.55 288.3,168.59 288.64,169.67 288.98,170.78 289.31,171.93 289.65,173.1 289.98,174.29 290.32,175.49 290.66,176.71 290.99,177.93 291.33,179.16 291.66,180.38 292,181.6 292.34,182.8 292.67,183.98 293.01,185.15 293.34,186.28 293.68,187.39 294.02,188.46 294.35,189.49 294.69,190.47 295.02,191.41 295.36,192.29 295.7,193.13 296.03,193.9 296.37,194.61 296.7,195.26 297.04,195.84 297.38,196.35 297.71,196.79 298.05,197.16 298.38,197.45 298.72,197.67 299.06,197.82 299.39,197.88 299.73,197.87 300.06,197.78 300.4,197.62 300.74,197.38 301.07,197.06 301.41,196.67 301.74,196.21 302.08,195.68 302.42,195.08 302.75,194.41 303.09,193.68 303.42,192.89 303.76,192.05 304.1,191.15 304.43,190.19 304.77,189.2 305.1,188.15 305.44,187.07 305.78,185.96 306.11,184.82 306.45,183.65 306.78,182.46 307.12,181.25 307.46,180.03 307.79,178.81 308.13,177.58 308.46,176.36 308.8,175.15 309.14,173.94 309.47,172.76 309.81,171.6 310.14,170.46 310.48,169.36 310.82,168.29 311.15,167.26 311.49,166.27 311.82,165.34 312.16,164.45 312.5,163.62 312.83,162.85 313.17,162.13 313.5,161.49 313.84,160.91 314.18,160.39 314.51,159.95 314.85,159.59 315.18,159.29 315.52,159.07 315.86,158.93 316.19,158.86 316.53,158.87 316.86,158.96 317.2,159.13 317.54,159.37 317.87,159.68 318.21,160.07 318.54,160.53 318.88,161.07 319.22,161.67 319.55,162.33 319.89,163.06 320.22,163.85 320.56,164.7 320.9,165.6 321.23,166.55 321.57,167.55 321.9,168.59 322.24,169.67 322.58,170.78 322.91,171.93 323.25,173.1 323.58,174.29 323.92,175.49 324.26,176.71 324.59,177.93 324.93,179.16 325.26,180.38 325.6,181.6 325.94,182.8 326.27,183.98 326.61,185.15 326.94,186.28 327.28,187.39 327.62,188.46 327.95,189.49 328.29,190.47 328.62,191.41 328.96,192.29 329.3,193.13 329.63,193.9 329.97,194.61 330.3,195.26 330.64,195.84 330.98,196.35 331.31,196.79 331.65,197.16 331.98,197.45 332.32,197.67 332.66,197.82 332.99,197.88 333.33,197.87 333.66,197.78 334,197.62 334.34,197.38 334.67,197.06 335.01,196.67 335.34,196.21 335.68,195.68 336.02,195.08 336.35,194.41 336.69,193.68 337.02,192.89 337.36,192.05 337.7,191.15 338.03,190.19 338.37,189.2 338.7,188.15 339.04,187.07 339.38,185.96 339.71,184.82 340.05,183.65 340.38,182.46 340.72,181.25 341.06,180.03 341.39,178.81 341.73,177.58 342.06,176.36 342.4,175.15 342.74,173.94 343.07,172.76 343.41,171.6 343.74,170.46 344.08,169.36 344.42,168.29 344.75,167.26 345.09,166.27 345.42,165.34 345.76,164.45 346.1,163.62 346.43,162.85 346.77,162.13 347.1,161.49 347.44,160.91 347.78,160.39 348.11,159.95 348.45,159.59 348.78,159.29 349.12,159.07 349.46,158.93 349.79,158.86 350.13,158.87 350.46,158.96 350.8,159.13 351.14,159.37 351.47,159.68 351.81,160.07 352.14,160.53 352.48,161.07 352.82,161.67 353.15,162.33 353.49,163.06 353.82,163.85 354.16,164.7 354.5,165.6 354.83,166.55 355.17,167.55 355.5,168.59 355.84,169.67 356.18,170.78 356.51,171.93 356.85,173.1 357.18,174.29 357.52,175.49 357.86,176.71 358.19,177.93 358.53,179.16 358.86,180.38 359.2,181.6 359.54,182.8 359.87,183.98 360.21,185.15 360.54,186.28 360.88,187.39 361.22,188.46 361.55,189.49 361.89,190.47 362.22,191.41 362.56,192.29 362.9,193.13 363.23,193.9 363.57,194.61 363.9,195.26 364.24,195.84 364.58,196.35 364.91,196.79 365.25,197.16 365.58,197.45 365.92,197.67 366.26,197.82 366.59,197.88 366.93,197.87 367.26,197.78 367.6,197.62 367.94,197.38 368.27,197.06 368.61,196.67 368.94,196.21 369.28,195.68 369.62,195.08 369.95,194.41 370.29,193.68 370.62,192.89 370.96,192.05 371.3,191.15 371.63,190.19 371.97,189.2 372.3,188.15 372.64,187.07 372.98,185.96 373.31,184.82 373.65,183.65 373.98,182.46 374.32,181.25 374.66,180.03 374.99,178.81 375.33,177.58 375.66,176.36 376,175.15 376.34,173.94 376.67,172.76 377.01,171.6 377.34,170.46 377.68,169.36 378.02,168.29 378.35,167.26 378.69,166.27 379.02,165.34 379.36,164.45 379.7,163.62 380.03,162.85 380.37,162.13 380.7,161.49 381.04,160.91 381.38,160.39 381.71,159.95" stroke="#2020ff" stroke-width="1.1" fill="none" stroke-linejoin="round"/>
<path d="M45.4,217.4V214 M45.4,147.15V150.55 M129.4,217.4V214 M129.4,147.15V150.55 M213.4,217.4V214 M213.4,147.15V150.55 M297.4,217.4V214 M297.4,147.15V150.55 M381.4,217.4V214 M381.4,147.15V150.55 M45.4,217.4H48.8 M381.4,217.4H378 M45.4,197.89H48.8 M381.4,197.89H378 M45.4,178.37H48.8 M381.4,178.37H378 M45.4,158.86H48.8 M381.4,158.86H378 " stroke="#606060" stroke-width="1.0" fill="none"/>
<rect x="45.4" y="147.15" width="336" height="70.25" fill="none" stroke="#606060" stroke-width="1.35"/>
<text transform="translate(41.1,161.96) scale(1,1.1)" font-size="11.2" text-anchor="end" font-weight="normal">50</text>
<text transform="translate(41.1,181.47) scale(1,1.1)" font-size="11.2" text-anchor="end" font-weight="normal">0</text>
<text transform="translate(41.1,200.99) scale(1,1.1)" font-size="11.2" text-anchor="end" font-weight="normal">−50</text>
<text transform="translate(41.1,220.5) scale(1,1.1)" font-size="11.2" text-anchor="end" font-weight="normal">−100</text>
<text transform="translate(45.4,231.5) scale(1,1.1)" font-size="11.2" text-anchor="middle" font-weight="normal">0</text>
<text transform="translate(129.4,231.5) scale(1,1.1)" font-size="11.2" text-anchor="middle" font-weight="normal">5</text>
<text transform="translate(213.4,231.5) scale(1,1.1)" font-size="11.2" text-anchor="middle" font-weight="normal">10</text>
<text transform="translate(297.4,231.5) scale(1,1.1)" font-size="11.2" text-anchor="middle" font-weight="normal">15</text>
<text transform="translate(381.4,231.5) scale(1,1.1)" font-size="11.2" text-anchor="middle" font-weight="normal">20</text>
<text x="219" y="246.4" font-size="12.4" text-anchor="middle" font-weight="normal" stroke="#2a2a2a" stroke-width="0.2">Time(s)</text>
<text transform="translate(15.8,117.5) rotate(-90)" font-size="13.3" text-anchor="middle" stroke="#2a2a2a" stroke-width="0.2">ω(r/min)</text>
<text x="235.8" y="277.8" font-size="12.6" text-anchor="middle" font-weight="bold" stroke="#2a2a2a" stroke-width="0.3">(a)</text>
<rect x="384.4" y="22.1" width="91.6" height="33" fill="#fff" stroke="#606060" stroke-width="1.1"/>
<path d="M387.9,31H424.2" stroke="#ff2a2a" stroke-width="1.3" stroke-dasharray="6.2 3.8"/>
<path d="M387.9,45.9H425.6" stroke="#ff7035" stroke-width="1.3"/>
<text x="428.2" y="33.9" font-size="10.7" text-anchor="start" font-weight="normal" textLength="43" lengthAdjust="spacingAndGlyphs" stroke="#2a2a2a" stroke-width="0.35">Reference</text>
<text x="428.2" y="48.4" font-size="10.7" text-anchor="start" font-weight="normal" textLength="9.4" lengthAdjust="spacingAndGlyphs" stroke="#2a2a2a" stroke-width="0.35">PI</text>
<rect x="384.5" y="90.5" width="90.9" height="32.9" fill="#fff" stroke="#606060" stroke-width="1.1"/>
<path d="M387.9,99.3H424.2" stroke="#ff2a2a" stroke-width="1.3" stroke-dasharray="6.2 3.8"/>
<path d="M387.9,114H425.6" stroke="#4a4a4a" stroke-width="1.1"/>
<text x="428" y="101.6" font-size="10.7" text-anchor="start" font-weight="normal" textLength="43" lengthAdjust="spacingAndGlyphs" stroke="#2a2a2a" stroke-width="0.35">Reference</text>
<text x="428" y="116.3" font-size="10.7" text-anchor="start" font-weight="normal" textLength="22.1" lengthAdjust="spacingAndGlyphs" stroke="#2a2a2a" stroke-width="0.35">SMC</text>
<rect x="382.7" y="166.7" width="91.9" height="32.5" fill="#fff" stroke="#606060" stroke-width="1.1"/>
<path d="M386.5,175.5H422.8" stroke="#ff2a2a" stroke-width="1.3" stroke-dasharray="6.2 3.8"/>
<path d="M386.5,190.4H424.2" stroke="#2020ff" stroke-width="1.3"/>
<text x="427.4" y="177.7" font-size="10.7" text-anchor="start" font-weight="normal" textLength="43" lengthAdjust="spacingAndGlyphs" stroke="#2a2a2a" stroke-width="0.35">Reference</text>
<text x="427.4" y="192.5" font-size="10.7" text-anchor="start" font-weight="normal" textLength="41.4" lengthAdjust="spacingAndGlyphs" stroke="#2a2a2a" stroke-width="0.35">NFTSMC</text>
<clipPath id="c4"><rect x="65.4" y="287.6" width="380" height="111.8"/></clipPath>
<polyline clip-path="url(#c4)" points="65,295.61 65.5,295.51 66,295.4 66.5,295.3 67,295.2 67.5,295.11 68,295.01 68.5,294.92 69,294.84 69.5,294.75 70,294.67 70.5,294.59 71,294.52 71.5,294.45 72,294.38 72.5,294.31 73,294.25 73.5,294.19 74,294.13 74.5,294.07 75,294.02 75.5,293.97 76,293.93 76.5,293.89 77,293.85 77.5,293.81 78,293.77 78.5,293.74 79,293.72 79.5,293.69 80,293.67 80.5,293.65 81,293.63 81.5,293.62 82,293.61 82.5,293.6 83,293.6 83.5,293.6 84,293.6 84.5,293.61 85,293.62 85.5,293.63 86,293.64 86.5,293.66 87,293.68 87.5,293.7 88,293.73 88.5,293.76 89,293.79 89.5,293.82 90,293.86 90.5,293.9 91,293.95 91.5,293.99 92,294.04 92.5,294.1 93,294.15 93.5,294.21 94,294.27 94.5,294.34 95,294.4 95.5,294.47 96,294.55 96.5,294.62 97,294.7 97.5,294.79 98,294.87 98.5,294.96 99,295.05 99.5,295.15 100,295.24 100.5,295.34 101,295.44 101.5,295.55 102,295.66 102.5,295.77 103,295.88 103.5,296 104,296.12 104.5,296.24 105,296.37 105.5,296.5 106,296.63 106.5,296.76 107,296.9 107.5,297.04 108,297.18 108.5,297.32 109,297.47 109.5,297.62 110,297.77 110.5,297.93 111,298.09 111.5,298.25 112,298.41 112.5,298.58 113,298.75 113.5,298.92 114,299.1 114.5,299.27 115,299.45 115.5,299.63 116,299.82 116.5,300.01 117,300.2 117.5,300.39 118,300.58 118.5,300.78 119,300.98 119.5,301.19 120,301.39 120.5,301.6 121,301.81 121.5,302.02 122,302.24 122.5,302.45 123,302.67 123.5,302.89 124,303.12 124.5,303.35 125,303.57 125.5,303.81 126,304.04 126.5,304.28 127,304.51 127.5,304.75 128,305 128.5,305.24 129,305.49 129.5,305.74 130,305.99 130.5,306.24 131,306.5 131.5,306.76 132,307.02 132.5,307.28 133,307.54 133.5,307.81 134,308.08 134.5,308.35 135,308.62 135.5,308.9 136,309.17 136.5,309.45 137,309.73 137.5,310.01 138,310.3 138.5,310.58 139,310.87 139.5,311.16 140,311.45 140.5,311.74 141,312.04 141.5,312.33 142,312.63 142.5,312.93 143,313.23 143.5,313.54 144,313.84 144.5,314.15 145,314.46 145.5,314.77 146,315.08 146.5,315.39 147,315.7 147.5,316.02 148,316.34 148.5,316.66 149,316.98 149.5,317.3 150,317.62 150.5,317.95 151,318.27 151.5,318.6 152,318.93 152.5,319.26 153,319.59 153.5,319.92 154,320.25 154.5,320.59 155,320.92 155.5,321.26 156,321.6 156.5,321.93 157,322.27 157.5,322.62 158,322.96 158.5,323.3 159,323.64 159.5,323.99 160,324.34 160.5,324.68 161,325.03 161.5,325.38 162,325.73 162.5,326.08 163,326.43 163.5,326.78 164,327.13 164.5,327.49 165,327.84 165.5,328.19 166,328.55 166.5,328.9 167,329.26 167.5,329.62 168,329.98 168.5,330.33 169,330.69 169.5,331.05 170,331.41 170.5,331.77 171,332.13 171.5,332.49 172,332.85 172.5,333.21 173,333.57 173.5,333.94 174,334.3 174.5,334.66 175,335.02 175.5,335.39 176,335.75 176.5,336.11 177,336.47 177.5,336.84 178,337.2 178.5,337.56 179,337.93 179.5,338.29 180,338.65 180.5,339.02 181,339.38 181.5,339.74 182,340.1 182.5,340.47 183,340.83 183.5,341.19 184,341.55 184.5,341.92 185,342.28 185.5,342.64 186,343 186.5,343.36 187,343.72 187.5,344.08 188,344.44 188.5,344.8 189,345.15 189.5,345.51 190,345.87 190.5,346.22 191,346.58 191.5,346.94 192,347.29 192.5,347.64 193,348 193.5,348.35 194,348.7 194.5,349.05 195,349.4 195.5,349.75 196,350.1 196.5,350.45 197,350.8 197.5,351.14 198,351.49 198.5,351.83 199,352.17 199.5,352.52 200,352.86 200.5,353.2 201,353.54 201.5,353.87 202,354.21 202.5,354.55 203,354.88 203.5,355.22 204,355.55 204.5,355.88 205,356.21 205.5,356.54 206,356.86 206.5,357.19 207,357.51 207.5,357.84 208,358.16 208.5,358.48 209,358.8 209.5,359.12 210,359.43 210.5,359.75 211,360.06 211.5,360.37 212,360.68 212.5,360.99 213,361.3 213.5,361.6 214,361.91 214.5,362.21 215,362.51 215.5,362.81 216,363.1 216.5,363.4 217,363.69 217.5,363.98 218,364.27 218.5,364.56 219,364.85 219.5,365.13 220,365.41 220.5,365.69 221,365.97 221.5,366.25 222,366.52 222.5,366.8 223,367.07 223.5,367.34 224,367.6 224.5,367.87 225,368.13 225.5,368.39 226,368.65 226.5,368.9 227,369.16 227.5,369.41 228,369.66 228.5,369.91 229,370.15 229.5,370.4 230,370.64 230.5,370.88 231,371.11 231.5,371.35 232,371.58 232.5,371.81 233,372.04 233.5,372.26 234,372.48 234.5,372.7 235,372.92 235.5,373.14 236,373.35 236.5,373.56 237,373.77 237.5,373.97 238,374.18 238.5,374.38 239,374.58 239.5,374.77 240,374.96 240.5,375.16 241,375.34 241.5,375.53 242,375.71 242.5,375.89 243,376.07 243.5,376.24 244,376.42 244.5,376.59 245,376.75 245.5,376.92 246,377.08 246.5,377.24 247,377.39 247.5,377.55 248,377.7 248.5,377.85 249,377.99 249.5,378.14 250,378.27 250.5,378.41 251,378.55 251.5,378.68 252,378.81 252.5,378.93 253,379.06 253.5,379.18 254,379.29 254.5,379.41 255,379.52 255.5,379.63 256,379.73 256.5,379.84 257,379.94 257.5,380.04 258,380.13 258.5,380.22 259,380.31 259.5,380.4 260,380.48 260.5,380.56 261,380.64 261.5,380.71 262,380.78 262.5,380.85 263,380.92 263.5,380.98 264,381.04 264.5,381.09 265,381.15 265.5,381.2 266,381.24 266.5,381.29 267,381.33 267.5,381.37 268,381.41 268.5,381.44 269,381.47 269.5,381.49 270,381.52 270.5,381.54 271,381.56 271.5,381.57 272,381.58 272.5,381.59 273,381.6 273.5,381.6 274,381.6 274.5,381.6 275,381.59 275.5,381.58 276,381.57 276.5,381.55 277,381.53 277.5,381.51 278,381.49 278.5,381.46 279,381.43 279.5,381.4 280,381.36 280.5,381.32 281,381.28 281.5,381.24 282,381.19 282.5,381.14 283,381.08 283.5,381.03 284,380.97 284.5,380.9 285,380.84 285.5,380.77 286,380.7 286.5,380.62 287,380.54 287.5,380.46 288,380.38 288.5,380.29 289,380.2 289.5,380.11 290,380.02 290.5,379.92 291,379.82 291.5,379.71 292,379.61 292.5,379.5 293,379.39 293.5,379.27 294,379.15 294.5,379.03 295,378.91 295.5,378.78 296,378.65 296.5,378.52 297,378.38 297.5,378.25 298,378.11 298.5,377.96 299,377.82 299.5,377.67 300,377.52 300.5,377.36 301,377.21 301.5,377.05 302,376.88 302.5,376.72 303,376.55 303.5,376.38 304,376.21 304.5,376.03 305,375.86 305.5,375.67 306,375.49 306.5,375.31 307,375.12 307.5,374.93 308,374.73 308.5,374.54 309,374.34 309.5,374.14 310,373.93 310.5,373.73 311,373.52 311.5,373.31 312,373.09 312.5,372.88 313,372.66 313.5,372.44 314,372.22 314.5,371.99 315,371.76 315.5,371.53 316,371.3 316.5,371.07 317,370.83 317.5,370.59 318,370.35 318.5,370.1 319,369.86 319.5,369.61 320,369.36 320.5,369.11 321,368.85 321.5,368.6 322,368.34 322.5,368.08 323,367.81 323.5,367.55 324,367.28 324.5,367.01 325,366.74 325.5,366.47 326,366.19 326.5,365.92 327,365.64 327.5,365.36 328,365.07 328.5,364.79 329,364.5 329.5,364.21 330,363.92 330.5,363.63 331,363.34 331.5,363.04 332,362.75 332.5,362.45 333,362.15 333.5,361.84 334,361.54 334.5,361.24 335,360.93 335.5,360.62 336,360.31 336.5,360 337,359.68 337.5,359.37 338,359.05 338.5,358.73 339,358.42 339.5,358.09 340,357.77 340.5,357.45 341,357.12 341.5,356.8 342,356.47 342.5,356.14 343,355.81 343.5,355.48 344,355.15 344.5,354.81 345,354.48 345.5,354.14 346,353.81 346.5,353.47 347,353.13 347.5,352.79 348,352.45 348.5,352.11 349,351.76 349.5,351.42 350,351.07 350.5,350.73 351,350.38 351.5,350.03 352,349.68 352.5,349.33 353,348.98 353.5,348.63 354,348.28 354.5,347.93 355,347.57 355.5,347.22 356,346.86 356.5,346.51 357,346.15 357.5,345.8 358,345.44 358.5,345.08 359,344.72 359.5,344.36 360,344.01 360.5,343.65 361,343.29 361.5,342.93 362,342.57 362.5,342.2 363,341.84 363.5,341.48 364,341.12 364.5,340.76 365,340.39 365.5,340.03 366,339.67 366.5,339.31 367,338.94 367.5,338.58 368,338.22 368.5,337.85 369,337.49 369.5,337.13 370,336.76 370.5,336.4 371,336.04 371.5,335.68 372,335.31 372.5,334.95 373,334.59 373.5,334.23 374,333.86 374.5,333.5 375,333.14 375.5,332.78 376,332.42 376.5,332.06 377,331.7 377.5,331.34 378,330.98 378.5,330.62 379,330.26 379.5,329.9 380,329.55 380.5,329.19 381,328.83 381.5,328.48 382,328.12 382.5,327.77 383,327.41 383.5,327.06 384,326.71 384.5,326.36 385,326.01 385.5,325.66 386,325.31 386.5,324.96 387,324.61 387.5,324.27 388,323.92 388.5,323.58 389,323.23 389.5,322.89 390,322.55 390.5,322.21 391,321.87 391.5,321.53 392,321.19 392.5,320.85 393,320.52 393.5,320.18 394,319.85 394.5,319.52 395,319.19 395.5,318.86 396,318.53 396.5,318.21 397,317.88 397.5,317.56 398,317.23 398.5,316.91 399,316.59 399.5,316.27 400,315.96 400.5,315.64 401,315.33 401.5,315.02 402,314.7 402.5,314.4 403,314.09 403.5,313.78 404,313.48 404.5,313.17 405,312.87 405.5,312.57 406,312.28 406.5,311.98 407,311.68 407.5,311.39 408,311.1 408.5,310.81 409,310.52 409.5,310.24 410,309.96 410.5,309.67 411,309.39 411.5,309.12 412,308.84 412.5,308.57 413,308.3 413.5,308.03 414,307.76 414.5,307.49 415,307.23 415.5,306.97 416,306.71 416.5,306.45 417,306.19 417.5,305.94 418,305.69 418.5,305.44 419,305.19 419.5,304.95 420,304.71 420.5,304.47 421,304.23 421.5,303.99 422,303.76 422.5,303.53 423,303.3 423.5,303.07 424,302.85 424.5,302.63 425,302.41 425.5,302.19 426,301.98 426.5,301.77 427,301.56 427.5,301.35 428,301.14 428.5,300.94 429,300.74 429.5,300.55 430,300.35 430.5,300.16 431,299.97 431.5,299.78 432,299.6 432.5,299.42 433,299.24 433.5,299.06 434,298.89 434.5,298.72 435,298.55 435.5,298.38 436,298.22 436.5,298.06 437,297.9 437.5,297.74 438,297.59 438.5,297.44 439,297.29 439.5,297.15 440,297.01 440.5,296.87 441,296.73 441.5,296.6 442,296.47 442.5,296.34 443,296.22 443.5,296.1 444,295.98 444.5,295.86 445,295.75 445.5,295.64" stroke="#ff2a2a" stroke-width="1.4" fill="none" stroke-dasharray="6.7 3.9"/>
<polyline clip-path="url(#c4)" points="65.4,295.3 75,294.3 84,294.3 95,295.8 104,297.8 115,302 123,305.6 130,306.8 140.5,310 153,316.7 165.6,325.1 178.1,331.4 190.7,337.7 196.9,340.8 202.2,346 207.4,353.3 213.7,360.7 220,366.9 226.2,372.2 235,381.2 245.1,385.7 257.6,389 274,392 290.3,389.7 305.3,385.2 320.4,380.2 335.5,375.1 340,373.6 349.2,370.2 358.4,364.4 369.9,355.2 379.1,344.8 388.3,335.6 399.8,328.7 413.6,319.5 425.2,307.6 434.4,303 445.4,299.3" stroke="#202020" stroke-width="1.0" fill="none" stroke-dasharray="5.4 2.0 1.0 2.3"/>
<polyline clip-path="url(#c4)" points="65.4,296.8 74,295.3 83.4,294.6 93,295.2 103.9,296.8 113,299.6 123,303.5 132,306.2 141.5,309.4 148,313.4 155.1,318.4 167.7,327.2 180.2,336.6 192.8,346 205.3,354.8 215.8,361.7 225,366.6 232,370.2 240.1,373.9 248,376.6 257.6,378.9 265,380.2 274,380.9 282,380.4 290.3,378.9 299,376.8 307.9,373.9 316,370 325.4,365.1 332,362 340,358 353.8,349.4 367.6,339.8 381.4,329.9 394.6,321.6 409.3,313 418,307.6 424.6,303.2 428.3,301.2 434,299.8 440,298.4 445.4,297.2" stroke="#2020ff" stroke-width="1.2" fill="none"/>
<path d="M65.4,399.4V395.6 M65.4,287.6V291.4 M103.4,399.4V395.6 M103.4,287.6V291.4 M141.4,399.4V395.6 M141.4,287.6V291.4 M179.4,399.4V395.6 M179.4,287.6V291.4 M217.4,399.4V395.6 M217.4,287.6V291.4 M255.4,399.4V395.6 M255.4,287.6V291.4 M293.4,399.4V395.6 M293.4,287.6V291.4 M331.4,399.4V395.6 M331.4,287.6V291.4 M369.4,399.4V395.6 M369.4,287.6V291.4 M407.4,399.4V395.6 M407.4,287.6V291.4 M445.4,399.4V395.6 M445.4,287.6V291.4 M65.4,293.6H69.2 M445.4,293.6H441.6 M65.4,337.6H69.2 M445.4,337.6H441.6 M65.4,381.6H69.2 M445.4,381.6H441.6 " stroke="#606060" stroke-width="1.0" fill="none"/>
<rect x="65.4" y="287.6" width="380" height="111.8" fill="none" stroke="#606060" stroke-width="1.35"/>
<text x="61.2" y="296.1" font-size="12.3" text-anchor="end" font-weight="normal">50</text>
<text x="61.2" y="340.1" font-size="12.3" text-anchor="end" font-weight="normal">0</text>
<text x="61.2" y="384.1" font-size="12.3" text-anchor="end" font-weight="normal">−50</text>
<text transform="translate(32.3,392.3) rotate(-90)" font-size="12.7" text-anchor="middle" stroke="#2a2a2a" stroke-width="0.2">ω(r/min)</text>
<rect x="225.4" y="293.0" width="99.4" height="48.1" fill="#fff" stroke="#606060" stroke-width="1"/>
<path d="M229.9,302H270.6" stroke="#ff2a2a" stroke-width="1.4" stroke-dasharray="6.7 3.9"/>
<path d="M229.9,317.1H270.6" stroke="#202020" stroke-width="1.0" stroke-dasharray="5.4 2.0 1.0 2.3"/>
<path d="M229.9,332H270.7" stroke="#2020ff" stroke-width="1.3"/>
<text x="273.6" y="304.8" font-size="11.6" text-anchor="start" font-weight="normal" textLength="46.5" lengthAdjust="spacingAndGlyphs" stroke="#2a2a2a" stroke-width="0.35">Reference</text>
<text x="273.6" y="319.8" font-size="11.6" text-anchor="start" font-weight="normal" textLength="23.6" lengthAdjust="spacingAndGlyphs" stroke="#2a2a2a" stroke-width="0.35">SMC</text>
<text x="273.6" y="334" font-size="11.6" text-anchor="start" font-weight="normal" textLength="45" lengthAdjust="spacingAndGlyphs" stroke="#2a2a2a" stroke-width="0.35">NFTSMC</text>
<clipPath id="c5"><rect x="67.3" y="414.5" width="158.3" height="81.5"/></clipPath>
<polyline clip-path="url(#c5)" points="67.3,458.8 74.9,462.5 90.5,459.2 98.8,467.1 107.1,475.4 115.4,480.9 122.4,487.3 126.4,474.4 131,463.4 138.4,450.1 147.5,446.2 154.7,442.4 162.2,443.5 170.1,440.1 178.6,433.5 186.1,420.4 193.7,423.2 201.2,438.2 208.7,442.4 217.2,454.2 225.6,459" stroke="#202020" stroke-width="1.1" fill="none" stroke-linejoin="round"/>
<path d="M67.3,496V492.6 M67.3,414.5V417.9 M106.88,496V492.6 M106.88,414.5V417.9 M146.45,496V492.6 M146.45,414.5V417.9 M186.03,496V492.6 M186.03,414.5V417.9 M225.6,496V492.6 M225.6,414.5V417.9 M67.3,424.3H70.7 M225.6,424.3H222.2 M67.3,444.65H70.7 M225.6,444.65H222.2 M67.3,465H70.7 M225.6,465H222.2 M67.3,485.35H70.7 M225.6,485.35H222.2 " stroke="#606060" stroke-width="1.0" fill="none"/>
<rect x="67.3" y="414.5" width="158.3" height="81.5" fill="none" stroke="#606060" stroke-width="1.35"/>
<text x="63.2" y="427.3" font-size="12.3" text-anchor="end" font-weight="normal">20</text>
<text x="63.2" y="447.65" font-size="12.3" text-anchor="end" font-weight="normal">10</text>
<text x="63.2" y="468" font-size="12.3" text-anchor="end" font-weight="normal">0</text>
<text x="63.2" y="488.35" font-size="12.3" text-anchor="end" font-weight="normal">−10</text>
<text x="67.3" y="510.8" font-size="12.3" text-anchor="middle" font-weight="normal">14</text>
<text x="106.88" y="510.8" font-size="12.3" text-anchor="middle" font-weight="normal">14.5</text>
<text x="146.45" y="510.8" font-size="12.3" text-anchor="middle" font-weight="normal">15</text>
<text x="186.03" y="510.8" font-size="12.3" text-anchor="middle" font-weight="normal">15.5</text>
<text x="225.6" y="510.8" font-size="12.3" text-anchor="middle" font-weight="normal">16</text>
<clipPath id="c6"><rect x="288.5" y="415.8" width="158.2" height="80.7"/></clipPath>
<polyline clip-path="url(#c6)" points="288.5,463.2 311.6,464.6 319.9,471.5 326.2,470.5 345,470.3 360,469.3 368,468.8 375.1,468.4 382.6,468 391.1,467.1 398.6,465.5 406.1,462.3 414.6,461.4 422.1,462.3 430.6,459.3 439.1,464.2 446.7,462.3" stroke="#2020ff" stroke-width="1.1" fill="none" stroke-linejoin="round"/>
<path d="M288.5,496.5V493.1 M288.5,415.8V419.2 M328.05,496.5V493.1 M328.05,415.8V419.2 M367.6,496.5V493.1 M367.6,415.8V419.2 M407.15,496.5V493.1 M407.15,415.8V419.2 M446.7,496.5V493.1 M446.7,415.8V419.2 M288.5,425.3H291.9 M446.7,425.3H443.3 M288.5,445.55H291.9 M446.7,445.55H443.3 M288.5,465.8H291.9 M446.7,465.8H443.3 M288.5,486.05H291.9 M446.7,486.05H443.3 " stroke="#606060" stroke-width="1.0" fill="none"/>
<rect x="288.5" y="415.8" width="158.2" height="80.7" fill="none" stroke="#606060" stroke-width="1.35"/>
<text x="284.4" y="428.3" font-size="12.3" text-anchor="end" font-weight="normal">20</text>
<text x="284.4" y="448.55" font-size="12.3" text-anchor="end" font-weight="normal">10</text>
<text x="284.4" y="468.8" font-size="12.3" text-anchor="end" font-weight="normal">0</text>
<text x="284.4" y="489.05" font-size="12.3" text-anchor="end" font-weight="normal">−10</text>
<text x="288.5" y="510.8" font-size="12.3" text-anchor="middle" font-weight="normal">14</text>
<text x="328.05" y="510.8" font-size="12.3" text-anchor="middle" font-weight="normal">14.5</text>
<text x="367.6" y="510.8" font-size="12.3" text-anchor="middle" font-weight="normal">15</text>
<text x="407.15" y="510.8" font-size="12.3" text-anchor="middle" font-weight="normal">15.5</text>
<text x="446.7" y="510.8" font-size="12.3" text-anchor="middle" font-weight="normal">16</text>
<text x="65.4" y="414.5" font-size="12.3" text-anchor="middle" font-weight="normal">14</text>
<text x="103.4" y="414.5" font-size="12.3" text-anchor="middle" font-weight="normal">14.5</text>
<text x="141.4" y="414.5" font-size="12.3" text-anchor="middle" font-weight="normal">15</text>
<text x="179.4" y="414.5" font-size="12.3" text-anchor="middle" font-weight="normal">15.5</text>
<text x="217.4" y="414.5" font-size="12.3" text-anchor="middle" font-weight="normal">16</text>
<text x="255.4" y="414.5" font-size="12.3" text-anchor="middle" font-weight="normal">14</text>
<text x="293.4" y="414.5" font-size="12.3" text-anchor="middle" font-weight="normal">14.5</text>
<text x="331.4" y="414.5" font-size="12.3" text-anchor="middle" font-weight="normal">15</text>
<text x="369.4" y="414.5" font-size="12.3" text-anchor="middle" font-weight="normal">15.5</text>
<text x="407.4" y="414.5" font-size="12.3" text-anchor="middle" font-weight="normal">16</text>
<text x="445.4" y="414.5" font-size="12.3" text-anchor="middle" font-weight="normal">14</text>
<path d="M67.3,414.5H225.6 M288.5,415.8H446.7" stroke="#606060" stroke-width="1.35"/>
<rect x="138.3" y="472.5" width="102.2" height="18.8" fill="#fff" stroke="#606060" stroke-width="1"/>
<path d="M143,481.8H182.4" stroke="#555" stroke-width="1.3"/>
<text x="185.8" y="484.4" font-size="11.6" text-anchor="start" font-weight="normal" textLength="47.1" lengthAdjust="spacingAndGlyphs" stroke="#2a2a2a" stroke-width="0.35">errorSMC</text>
<rect x="305.7" y="418.6" width="124.3" height="18.4" fill="#fff" stroke="#606060" stroke-width="1"/>
<path d="M310.5,427.6H350.3" stroke="#2020ff" stroke-width="1.3"/>
<text x="353" y="430.5" font-size="11.6" text-anchor="start" font-weight="normal" textLength="72.6" lengthAdjust="spacingAndGlyphs" stroke="#2a2a2a" stroke-width="0.35">error-NFTSMC</text>
<text x="253.5" y="522.6" font-size="14.2" text-anchor="middle" font-weight="normal" textLength="43.5" lengthAdjust="spacingAndGlyphs" stroke="#2a2a2a" stroke-width="0.2">Time(s)</text>
<text x="235.9" y="544" font-size="13.2" text-anchor="middle" font-weight="bold" stroke="#2a2a2a" stroke-width="0.3">(b)</text>
</svg>
</body></html>
